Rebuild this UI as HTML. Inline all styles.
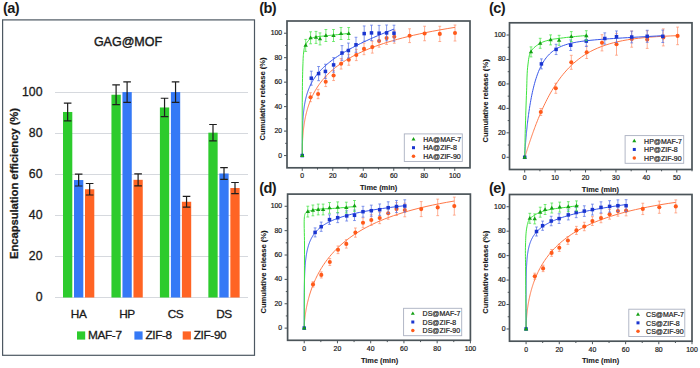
<!DOCTYPE html>
<html><head><meta charset="utf-8"><style>html,body{margin:0;padding:0;background:#fff;width:700px;height:368px;overflow:hidden}svg{display:block}</style></head><body>
<svg width="700" height="368" viewBox="0 0 700 368">
<style>text{font-family:"Liberation Sans", sans-serif;fill:#1a1a1a}.tk{font-size:6.9px;stroke:#1a1a1a;stroke-width:0.2px}.axl{font-size:7.6px;font-weight:bold;stroke:#1a1a1a;stroke-width:0.1px}.plab{font-size:14.6px;font-weight:bold;letter-spacing:-0.6px}.lg{font-size:7.0px;stroke:#1a1a1a;stroke-width:0.2px}.ta{font-size:11.8px;stroke:#1a1a1a;stroke-width:0.3px}</style>
<rect width="700" height="368" fill="#fff"/>
<text x="3" y="13" class="plab">(a)</text>
<rect x="2.6" y="19.9" width="251.9" height="335.4" fill="none" stroke="#4d5862" stroke-width="1.2"/>
<line x1="55" y1="297.50" x2="248" y2="297.50" stroke="#d6d9de" stroke-width="1"/>
<text x="42.5" y="300.60" text-anchor="end" class="ta" style="font-size:12.3px">0</text>
<line x1="55" y1="256.50" x2="248" y2="256.50" stroke="#d6d9de" stroke-width="1"/>
<text x="42.5" y="259.60" text-anchor="end" class="ta" style="font-size:12.3px">20</text>
<line x1="55" y1="215.50" x2="248" y2="215.50" stroke="#d6d9de" stroke-width="1"/>
<text x="42.5" y="218.60" text-anchor="end" class="ta" style="font-size:12.3px">40</text>
<line x1="55" y1="174.50" x2="248" y2="174.50" stroke="#d6d9de" stroke-width="1"/>
<text x="42.5" y="177.60" text-anchor="end" class="ta" style="font-size:12.3px">60</text>
<line x1="55" y1="133.50" x2="248" y2="133.50" stroke="#d6d9de" stroke-width="1"/>
<text x="42.5" y="136.60" text-anchor="end" class="ta" style="font-size:12.3px">80</text>
<line x1="55" y1="92.50" x2="248" y2="92.50" stroke="#d6d9de" stroke-width="1"/>
<text x="42.5" y="95.60" text-anchor="end" class="ta" style="font-size:12.3px">100</text>
<text x="128" y="46.4" text-anchor="middle" class="ta" style="font-size:12.5px;stroke-width:0.4px">GAG@MOF</text>
<text transform="translate(18.3,183.5) rotate(-90)" text-anchor="middle" style="font-size:11.3px;font-weight:bold;letter-spacing:-0.08px;stroke:#1a1a1a;stroke-width:0.25px">Encapsulation efficiency (%)</text>
<rect x="63.00" y="111.98" width="9.3" height="185.52" fill="#2dcb2d"/>
<rect x="74.00" y="180.04" width="9.3" height="117.46" fill="#3579f6"/>
<rect x="85.00" y="189.26" width="9.3" height="108.24" fill="#ff6424"/>
<path d="M67.65,103.16 V120.79 M63.85,103.16 H71.45 M63.85,120.79 H71.45" stroke="#1e1e1e" stroke-width="1.2" fill="none"/>
<path d="M78.65,174.09 V185.98 M74.85,174.09 H82.45 M74.85,185.98 H82.45" stroke="#1e1e1e" stroke-width="1.2" fill="none"/>
<path d="M89.65,183.52 V195.00 M85.85,183.52 H93.45 M85.85,195.00 H93.45" stroke="#1e1e1e" stroke-width="1.2" fill="none"/>
<text x="78.60" y="317.8" text-anchor="middle" class="ta" style="letter-spacing:-0.4px">HA</text>
<rect x="111.45" y="94.75" width="9.3" height="202.75" fill="#2dcb2d"/>
<rect x="122.45" y="92.09" width="9.3" height="205.41" fill="#3579f6"/>
<rect x="133.45" y="179.83" width="9.3" height="117.67" fill="#ff6424"/>
<path d="M116.10,84.91 V104.59 M112.30,84.91 H119.90 M112.30,104.59 H119.90" stroke="#1e1e1e" stroke-width="1.2" fill="none"/>
<path d="M127.10,81.84 V102.34 M123.30,81.84 H130.90 M123.30,102.34 H130.90" stroke="#1e1e1e" stroke-width="1.2" fill="none"/>
<path d="M138.10,173.89 V185.78 M134.30,173.89 H141.90 M134.30,185.78 H141.90" stroke="#1e1e1e" stroke-width="1.2" fill="none"/>
<text x="127.05" y="317.8" text-anchor="middle" class="ta" style="letter-spacing:-0.4px">HP</text>
<rect x="159.90" y="107.47" width="9.3" height="190.03" fill="#2dcb2d"/>
<rect x="170.90" y="92.09" width="9.3" height="205.41" fill="#3579f6"/>
<rect x="181.90" y="201.76" width="9.3" height="95.74" fill="#ff6424"/>
<path d="M164.55,98.24 V116.69 M160.75,98.24 H168.35 M160.75,116.69 H168.35" stroke="#1e1e1e" stroke-width="1.2" fill="none"/>
<path d="M175.55,81.84 V102.34 M171.75,81.84 H179.35 M171.75,102.34 H179.35" stroke="#1e1e1e" stroke-width="1.2" fill="none"/>
<path d="M186.55,196.43 V207.09 M182.75,196.43 H190.35 M182.75,207.09 H190.35" stroke="#1e1e1e" stroke-width="1.2" fill="none"/>
<text x="175.50" y="317.8" text-anchor="middle" class="ta" style="letter-spacing:-0.4px">CS</text>
<rect x="208.35" y="132.68" width="9.3" height="164.82" fill="#2dcb2d"/>
<rect x="219.35" y="173.48" width="9.3" height="124.02" fill="#3579f6"/>
<rect x="230.35" y="188.03" width="9.3" height="109.47" fill="#ff6424"/>
<path d="M213.00,124.48 V140.88 M209.20,124.48 H216.80 M209.20,140.88 H216.80" stroke="#1e1e1e" stroke-width="1.2" fill="none"/>
<path d="M224.00,167.53 V179.42 M220.20,167.53 H227.80 M220.20,179.42 H227.80" stroke="#1e1e1e" stroke-width="1.2" fill="none"/>
<path d="M235.00,182.50 V193.57 M231.20,182.50 H238.80 M231.20,193.57 H238.80" stroke="#1e1e1e" stroke-width="1.2" fill="none"/>
<text x="223.95" y="317.8" text-anchor="middle" class="ta" style="letter-spacing:-0.4px">DS</text>
<rect x="77.00" y="331.4" width="8.2" height="8.2" fill="#2dcb2d"/>
<text x="88.00" y="339" class="ta" style="letter-spacing:-0.35px">MAF-7</text>
<rect x="134.40" y="331.4" width="8.2" height="8.2" fill="#3579f6"/>
<text x="145.40" y="339" class="ta" style="letter-spacing:-0.35px">ZIF-8</text>
<rect x="182.70" y="331.4" width="8.2" height="8.2" fill="#ff6424"/>
<text x="193.70" y="339" class="ta" style="letter-spacing:-0.35px">ZIF-90</text>
<rect x="287.00" y="21.00" width="183.00" height="146.80" fill="none" stroke="#4b5459" stroke-width="1.7"/>
<line x1="302.25" y1="167.80" x2="302.25" y2="170.80" stroke="#4b5459" stroke-width="1"/>
<text x="302.25" y="178.20" text-anchor="middle" class="tk">0</text>
<line x1="332.75" y1="167.80" x2="332.75" y2="170.80" stroke="#4b5459" stroke-width="1"/>
<text x="332.75" y="178.20" text-anchor="middle" class="tk">20</text>
<line x1="363.25" y1="167.80" x2="363.25" y2="170.80" stroke="#4b5459" stroke-width="1"/>
<text x="363.25" y="178.20" text-anchor="middle" class="tk">40</text>
<line x1="393.75" y1="167.80" x2="393.75" y2="170.80" stroke="#4b5459" stroke-width="1"/>
<text x="393.75" y="178.20" text-anchor="middle" class="tk">60</text>
<line x1="424.25" y1="167.80" x2="424.25" y2="170.80" stroke="#4b5459" stroke-width="1"/>
<text x="424.25" y="178.20" text-anchor="middle" class="tk">80</text>
<line x1="454.75" y1="167.80" x2="454.75" y2="170.80" stroke="#4b5459" stroke-width="1"/>
<text x="454.75" y="178.20" text-anchor="middle" class="tk">100</text>
<line x1="317.50" y1="167.80" x2="317.50" y2="169.60" stroke="#4b5459" stroke-width="1"/>
<line x1="348.00" y1="167.80" x2="348.00" y2="169.60" stroke="#4b5459" stroke-width="1"/>
<line x1="378.50" y1="167.80" x2="378.50" y2="169.60" stroke="#4b5459" stroke-width="1"/>
<line x1="409.00" y1="167.80" x2="409.00" y2="169.60" stroke="#4b5459" stroke-width="1"/>
<line x1="439.50" y1="167.80" x2="439.50" y2="169.60" stroke="#4b5459" stroke-width="1"/>
<line x1="284.00" y1="155.57" x2="287.00" y2="155.57" stroke="#4b5459" stroke-width="1"/>
<text x="282.20" y="157.52" text-anchor="end" class="tk">0</text>
<line x1="284.00" y1="131.10" x2="287.00" y2="131.10" stroke="#4b5459" stroke-width="1"/>
<text x="282.20" y="133.05" text-anchor="end" class="tk">20</text>
<line x1="284.00" y1="106.63" x2="287.00" y2="106.63" stroke="#4b5459" stroke-width="1"/>
<text x="282.20" y="108.58" text-anchor="end" class="tk">40</text>
<line x1="284.00" y1="82.17" x2="287.00" y2="82.17" stroke="#4b5459" stroke-width="1"/>
<text x="282.20" y="84.12" text-anchor="end" class="tk">60</text>
<line x1="284.00" y1="57.70" x2="287.00" y2="57.70" stroke="#4b5459" stroke-width="1"/>
<text x="282.20" y="59.65" text-anchor="end" class="tk">80</text>
<line x1="284.00" y1="33.23" x2="287.00" y2="33.23" stroke="#4b5459" stroke-width="1"/>
<text x="282.20" y="35.18" text-anchor="end" class="tk">100</text>
<line x1="285.20" y1="143.33" x2="287.00" y2="143.33" stroke="#4b5459" stroke-width="1"/>
<line x1="285.20" y1="118.87" x2="287.00" y2="118.87" stroke="#4b5459" stroke-width="1"/>
<line x1="285.20" y1="94.40" x2="287.00" y2="94.40" stroke="#4b5459" stroke-width="1"/>
<line x1="285.20" y1="69.93" x2="287.00" y2="69.93" stroke="#4b5459" stroke-width="1"/>
<line x1="285.20" y1="45.47" x2="287.00" y2="45.47" stroke="#4b5459" stroke-width="1"/>
<text x="378.60" y="189.90" text-anchor="middle" class="axl" style="font-size:7.4px">Time (min)</text>
<text transform="translate(265.30,99.00) rotate(-90)" text-anchor="middle" class="axl">Cumulative release (%)</text>
<text x="259.20" y="13.00" class="plab">(b)</text>
<path d="M310.50,92.70 V101.70 M309.10,92.70 H311.90 M309.10,101.70 H311.90" stroke="#ff9470" stroke-width="0.75" fill="none"/>
<path d="M318.10,89.32 V98.68 M316.70,89.32 H319.50 M316.70,98.68 H319.50" stroke="#ff9470" stroke-width="0.75" fill="none"/>
<path d="M325.70,76.83 V86.57 M324.30,76.83 H327.10 M324.30,86.57 H327.10" stroke="#ff9470" stroke-width="0.75" fill="none"/>
<path d="M333.60,70.44 V80.56 M332.20,70.44 H335.00 M332.20,80.56 H335.00" stroke="#ff9470" stroke-width="0.75" fill="none"/>
<path d="M341.10,58.56 V69.04 M339.70,58.56 H342.50 M339.70,69.04 H342.50" stroke="#ff9470" stroke-width="0.75" fill="none"/>
<path d="M348.80,54.37 V65.23 M347.40,54.37 H350.20 M347.40,65.23 H350.20" stroke="#ff9470" stroke-width="0.75" fill="none"/>
<path d="M356.30,49.39 V60.61 M354.90,49.39 H357.70 M354.90,60.61 H357.70" stroke="#ff9470" stroke-width="0.75" fill="none"/>
<path d="M364.00,43.10 V54.70 M362.60,43.10 H365.40 M362.60,54.70 H365.40" stroke="#ff9470" stroke-width="0.75" fill="none"/>
<path d="M372.30,41.10 V53.10 M370.90,41.10 H373.70 M370.90,53.10 H373.70" stroke="#ff9470" stroke-width="0.75" fill="none"/>
<path d="M379.10,34.84 V47.16 M377.70,34.84 H380.50 M377.70,47.16 H380.50" stroke="#ff9470" stroke-width="0.75" fill="none"/>
<path d="M386.60,31.76 V44.44 M385.20,31.76 H388.00 M385.20,44.44 H388.00" stroke="#ff9470" stroke-width="0.75" fill="none"/>
<path d="M394.30,30.17 V43.23 M392.90,30.17 H395.70 M392.90,43.23 H395.70" stroke="#ff9470" stroke-width="0.75" fill="none"/>
<path d="M409.60,28.80 V42.60 M408.20,28.80 H411.00 M408.20,42.60 H411.00" stroke="#ff9470" stroke-width="0.75" fill="none"/>
<path d="M424.60,26.24 V40.76 M423.20,26.24 H426.00 M423.20,40.76 H426.00" stroke="#ff9470" stroke-width="0.75" fill="none"/>
<path d="M439.80,26.27 V41.53 M438.40,26.27 H441.20 M438.40,41.53 H441.20" stroke="#ff9470" stroke-width="0.75" fill="none"/>
<path d="M455.00,25.00 V41.00 M453.60,25.00 H456.40 M453.60,41.00 H456.40" stroke="#ff9470" stroke-width="0.75" fill="none"/>
<path d="M302.25,155.57 L302.25,154.18 L302.25,154.15 L302.25,154.12 L302.25,154.08 L302.25,154.05 L302.25,154.01 L302.25,153.97 L302.25,153.93 L302.25,153.89 L302.25,153.85 L302.25,153.81 L302.25,153.77 L302.25,153.73 L302.25,153.68 L302.25,153.64 L302.25,153.59 L302.25,153.55 L302.25,153.50 L302.25,153.45 L302.25,153.40 L302.25,153.35 L302.25,153.29 L302.25,153.24 L302.26,153.18 L302.26,153.13 L302.26,153.07 L302.26,153.01 L302.26,152.95 L302.26,152.89 L302.26,152.82 L302.26,152.76 L302.26,152.69 L302.26,152.62 L302.26,152.55 L302.26,152.48 L302.26,152.40 L302.26,152.33 L302.26,152.25 L302.26,152.17 L302.26,152.09 L302.26,152.01 L302.26,151.93 L302.26,151.84 L302.26,151.75 L302.27,151.66 L302.27,151.57 L302.27,151.47 L302.27,151.38 L302.27,151.28 L302.27,151.17 L302.27,151.07 L302.27,150.96 L302.27,150.85 L302.27,150.74 L302.28,150.63 L302.28,150.51 L302.28,150.39 L302.28,150.27 L302.28,150.14 L302.28,150.02 L302.29,149.89 L302.29,149.75 L302.29,149.61 L302.29,149.47 L302.29,149.33 L302.30,149.18 L302.30,149.03 L302.30,148.88 L302.30,148.72 L302.31,148.56 L302.31,148.40 L302.31,148.23 L302.32,148.05 L302.32,147.88 L302.32,147.70 L302.33,147.51 L302.33,147.32 L302.34,147.13 L302.34,146.93 L302.35,146.73 L302.35,146.53 L302.36,146.32 L302.36,146.10 L302.37,145.88 L302.38,145.65 L302.38,145.42 L302.39,145.19 L302.40,144.94 L302.41,144.70 L302.41,144.45 L302.42,144.19 L302.43,143.92 L302.44,143.66 L302.45,143.38 L302.46,143.10 L302.48,142.81 L302.49,142.52 L302.50,142.22 L302.51,141.91 L302.53,141.59 L302.54,141.27 L302.56,140.95 L302.58,140.61 L302.59,140.27 L302.61,139.92 L302.63,139.56 L302.65,139.20 L302.67,138.83 L302.70,138.45 L302.72,138.06 L302.75,137.66 L302.77,137.25 L302.80,136.84 L302.83,136.42 L302.86,135.99 L302.89,135.55 L302.93,135.10 L302.97,134.64 L303.00,134.17 L303.05,133.69 L303.09,133.20 L303.13,132.70 L303.18,132.20 L303.23,131.68 L303.28,131.15 L303.34,130.61 L303.40,130.06 L303.46,129.50 L303.53,128.92 L303.60,128.34 L303.67,127.75 L303.74,127.14 L303.83,126.52 L303.91,125.89 L304.00,125.25 L304.09,124.59 L304.19,123.93 L304.30,123.25 L304.41,122.55 L304.53,121.85 L304.65,121.13 L304.78,120.40 L304.92,119.65 L305.06,118.90 L305.21,118.13 L305.37,117.34 L305.54,116.54 L305.72,115.73 L305.90,114.90 L306.10,114.06 L306.31,113.21 L306.53,112.34 L306.76,111.45 L307.00,110.56 L307.26,109.64 L307.53,108.72 L307.81,107.77 L308.11,106.82 L308.43,105.85 L308.77,104.86 L309.12,103.86 L309.49,102.84 L309.88,101.81 L310.29,100.77 L310.72,99.71 L311.18,98.63 L311.66,97.54 L312.17,96.44 L312.71,95.32 L313.27,94.19 L313.87,93.04 L314.49,91.88 L315.16,90.71 L315.85,89.52 L316.59,88.32 L317.36,87.10 L318.18,85.87 L319.04,84.63 L319.94,83.38 L320.90,82.11 L321.90,80.83 L322.96,79.54 L324.08,78.24 L325.26,76.93 L326.50,75.60 L327.81,74.27 L329.19,72.93 L330.65,71.57 L332.18,70.21 L333.80,68.84 L335.50,67.46 L337.29,66.08 L339.19,64.69 L341.18,63.29 L343.28,61.89 L345.50,60.48 L347.83,59.07 L350.29,57.66 L352.89,56.24 L355.62,54.82 L358.50,53.40 L361.54,51.98 L364.74,50.56 L368.11,49.14 L371.67,47.73 L375.41,46.31 L379.36,44.90 L383.53,43.50 L387.92,42.10 L392.54,40.71 L397.41,39.32 L402.55,37.95 L407.97,36.58 L413.67,35.22 L419.69,33.88 L426.03,32.54 L432.71,31.22 L439.75,29.92 L447.18,28.63 L455.00,27.35" fill="none" stroke="#ff7848" stroke-width="1.0" stroke-linejoin="round"/>
<circle cx="310.50" cy="97.20" r="2.05" fill="#ff5a1a"/>
<circle cx="318.10" cy="94.00" r="2.05" fill="#ff5a1a"/>
<circle cx="325.70" cy="81.70" r="2.05" fill="#ff5a1a"/>
<circle cx="333.60" cy="75.50" r="2.05" fill="#ff5a1a"/>
<circle cx="341.10" cy="63.80" r="2.05" fill="#ff5a1a"/>
<circle cx="348.80" cy="59.80" r="2.05" fill="#ff5a1a"/>
<circle cx="356.30" cy="55.00" r="2.05" fill="#ff5a1a"/>
<circle cx="364.00" cy="48.90" r="2.05" fill="#ff5a1a"/>
<circle cx="372.30" cy="47.10" r="2.05" fill="#ff5a1a"/>
<circle cx="379.10" cy="41.00" r="2.05" fill="#ff5a1a"/>
<circle cx="386.60" cy="38.10" r="2.05" fill="#ff5a1a"/>
<circle cx="394.30" cy="36.70" r="2.05" fill="#ff5a1a"/>
<circle cx="409.60" cy="35.70" r="2.05" fill="#ff5a1a"/>
<circle cx="424.60" cy="33.50" r="2.05" fill="#ff5a1a"/>
<circle cx="439.80" cy="33.90" r="2.05" fill="#ff5a1a"/>
<circle cx="455.00" cy="33.00" r="2.05" fill="#ff5a1a"/>
<path d="M311.30,71.20 V85.20 M309.90,71.20 H312.70 M309.90,85.20 H312.70" stroke="#5a74e6" stroke-width="0.75" fill="none"/>
<path d="M318.60,66.51 V80.69 M317.20,66.51 H320.00 M317.20,80.69 H320.00" stroke="#5a74e6" stroke-width="0.75" fill="none"/>
<path d="M325.40,64.23 V78.57 M324.00,64.23 H326.80 M324.00,78.57 H326.80" stroke="#5a74e6" stroke-width="0.75" fill="none"/>
<path d="M333.60,57.63 V72.17 M332.20,57.63 H335.00 M332.20,72.17 H335.00" stroke="#5a74e6" stroke-width="0.75" fill="none"/>
<path d="M342.00,45.63 V60.37 M340.60,45.63 H343.40 M340.60,60.37 H343.40" stroke="#5a74e6" stroke-width="0.75" fill="none"/>
<path d="M348.40,43.05 V57.95 M347.00,43.05 H349.80 M347.00,57.95 H349.80" stroke="#5a74e6" stroke-width="0.75" fill="none"/>
<path d="M356.00,37.26 V52.34 M354.60,37.26 H357.40 M354.60,52.34 H357.40" stroke="#5a74e6" stroke-width="0.75" fill="none"/>
<path d="M364.20,25.96 V41.24 M362.80,25.96 H365.60 M362.80,41.24 H365.60" stroke="#5a74e6" stroke-width="0.75" fill="none"/>
<path d="M371.50,25.17 V40.63 M370.10,25.17 H372.90 M370.10,40.63 H372.90" stroke="#5a74e6" stroke-width="0.75" fill="none"/>
<path d="M379.10,25.38 V41.02 M377.70,25.38 H380.50 M377.70,41.02 H380.50" stroke="#5a74e6" stroke-width="0.75" fill="none"/>
<path d="M386.60,24.99 V40.81 M385.20,24.99 H388.00 M385.20,40.81 H388.00" stroke="#5a74e6" stroke-width="0.75" fill="none"/>
<path d="M394.00,25.20 V41.20 M392.60,25.20 H395.40 M392.60,41.20 H395.40" stroke="#5a74e6" stroke-width="0.75" fill="none"/>
<path d="M302.25,155.57 L302.25,151.57 L302.25,151.49 L302.25,151.41 L302.25,151.33 L302.25,151.25 L302.25,151.16 L302.25,151.08 L302.25,150.99 L302.25,150.90 L302.25,150.81 L302.25,150.72 L302.25,150.62 L302.25,150.53 L302.25,150.43 L302.25,150.33 L302.25,150.23 L302.25,150.12 L302.25,150.02 L302.25,149.91 L302.25,149.80 L302.25,149.69 L302.25,149.58 L302.25,149.46 L302.25,149.34 L302.26,149.22 L302.26,149.10 L302.26,148.97 L302.26,148.85 L302.26,148.72 L302.26,148.59 L302.26,148.45 L302.26,148.32 L302.26,148.18 L302.26,148.04 L302.26,147.89 L302.26,147.74 L302.26,147.60 L302.26,147.44 L302.26,147.29 L302.26,147.13 L302.26,146.97 L302.26,146.81 L302.26,146.64 L302.26,146.47 L302.26,146.30 L302.26,146.12 L302.27,145.95 L302.27,145.76 L302.27,145.58 L302.27,145.39 L302.27,145.20 L302.27,145.01 L302.27,144.81 L302.27,144.61 L302.27,144.40 L302.27,144.19 L302.28,143.98 L302.28,143.77 L302.28,143.55 L302.28,143.33 L302.28,143.10 L302.28,142.87 L302.28,142.63 L302.29,142.40 L302.29,142.15 L302.29,141.91 L302.29,141.66 L302.29,141.40 L302.30,141.14 L302.30,140.88 L302.30,140.61 L302.30,140.34 L302.31,140.07 L302.31,139.79 L302.31,139.50 L302.32,139.21 L302.32,138.92 L302.32,138.62 L302.33,138.32 L302.33,138.01 L302.33,137.69 L302.34,137.38 L302.34,137.05 L302.35,136.73 L302.35,136.39 L302.36,136.06 L302.36,135.71 L302.37,135.36 L302.38,135.01 L302.38,134.65 L302.39,134.29 L302.40,133.92 L302.41,133.55 L302.41,133.17 L302.42,132.78 L302.43,132.39 L302.44,131.99 L302.45,131.59 L302.46,131.18 L302.47,130.77 L302.48,130.35 L302.49,129.93 L302.51,129.49 L302.52,129.06 L302.53,128.62 L302.55,128.17 L302.56,127.71 L302.58,127.25 L302.60,126.79 L302.61,126.31 L302.63,125.84 L302.65,125.35 L302.67,124.86 L302.70,124.37 L302.72,123.86 L302.74,123.35 L302.77,122.84 L302.80,122.32 L302.82,121.79 L302.85,121.26 L302.88,120.72 L302.92,120.17 L302.95,119.62 L302.99,119.06 L303.03,118.50 L303.07,117.93 L303.11,117.35 L303.15,116.77 L303.20,116.18 L303.25,115.58 L303.30,114.98 L303.35,114.37 L303.41,113.76 L303.47,113.13 L303.53,112.51 L303.60,111.87 L303.67,111.23 L303.74,110.59 L303.82,109.94 L303.90,109.28 L303.98,108.61 L304.07,107.94 L304.17,107.27 L304.26,106.59 L304.37,105.90 L304.48,105.20 L304.59,104.50 L304.71,103.79 L304.84,103.08 L304.97,102.36 L305.11,101.64 L305.26,100.91 L305.42,100.17 L305.58,99.43 L305.75,98.68 L305.93,97.92 L306.12,97.16 L306.32,96.40 L306.53,95.62 L306.75,94.85 L306.98,94.06 L307.23,93.27 L307.48,92.47 L307.75,91.67 L308.04,90.86 L308.33,90.05 L308.65,89.22 L308.98,88.40 L309.32,87.56 L309.69,86.72 L310.07,85.88 L310.47,85.02 L310.90,84.16 L311.34,83.29 L311.81,82.42 L312.30,81.54 L312.82,80.65 L313.37,79.76 L313.94,78.85 L314.54,77.94 L315.18,77.02 L315.84,76.09 L316.54,75.16 L317.28,74.21 L318.05,73.26 L318.87,72.29 L319.73,71.32 L320.63,70.34 L321.57,69.34 L322.57,68.34 L323.62,67.32 L324.72,66.29 L325.88,65.25 L327.09,64.19 L328.37,63.13 L329.72,62.04 L331.13,60.95 L332.62,59.83 L334.19,58.70 L335.83,57.55 L337.57,56.39 L339.39,55.20 L341.30,54.00 L343.31,52.77 L345.43,51.52 L347.65,50.24 L349.99,48.95 L352.45,47.62 L355.04,46.27 L357.76,44.89 L360.62,43.47 L363.63,42.03 L366.79,40.55 L370.12,39.03 L373.62,37.48 L377.29,35.89 L381.16,34.25 L385.23,32.57 L389.50,30.84 L394.00,29.07" fill="none" stroke="#3655ea" stroke-width="1.0" stroke-linejoin="round"/>
<rect x="309.55" y="76.45" width="3.50" height="3.50" fill="#1a35d0"/>
<rect x="316.85" y="71.85" width="3.50" height="3.50" fill="#1a35d0"/>
<rect x="323.65" y="69.65" width="3.50" height="3.50" fill="#1a35d0"/>
<rect x="331.85" y="63.15" width="3.50" height="3.50" fill="#1a35d0"/>
<rect x="340.25" y="51.25" width="3.50" height="3.50" fill="#1a35d0"/>
<rect x="346.65" y="48.75" width="3.50" height="3.50" fill="#1a35d0"/>
<rect x="354.25" y="43.05" width="3.50" height="3.50" fill="#1a35d0"/>
<rect x="362.45" y="31.85" width="3.50" height="3.50" fill="#1a35d0"/>
<rect x="369.75" y="31.15" width="3.50" height="3.50" fill="#1a35d0"/>
<rect x="377.35" y="31.45" width="3.50" height="3.50" fill="#1a35d0"/>
<rect x="384.85" y="31.15" width="3.50" height="3.50" fill="#1a35d0"/>
<rect x="392.25" y="31.45" width="3.50" height="3.50" fill="#1a35d0"/>
<path d="M305.70,39.40 V51.40 M304.30,39.40 H307.10 M304.30,51.40 H307.10" stroke="#48e448" stroke-width="0.75" fill="none"/>
<path d="M310.60,31.80 V43.80 M309.20,31.80 H312.00 M309.20,43.80 H312.00" stroke="#48e448" stroke-width="0.75" fill="none"/>
<path d="M316.00,31.40 V43.40 M314.60,31.40 H317.40 M314.60,43.40 H317.40" stroke="#48e448" stroke-width="0.75" fill="none"/>
<path d="M320.00,32.90 V44.90 M318.60,32.90 H321.40 M318.60,44.90 H321.40" stroke="#48e448" stroke-width="0.75" fill="none"/>
<path d="M325.90,29.50 V41.50 M324.50,29.50 H327.30 M324.50,41.50 H327.30" stroke="#48e448" stroke-width="0.75" fill="none"/>
<path d="M333.50,29.50 V41.50 M332.10,29.50 H334.90 M332.10,41.50 H334.90" stroke="#48e448" stroke-width="0.75" fill="none"/>
<path d="M341.00,27.50 V39.50 M339.60,27.50 H342.40 M339.60,39.50 H342.40" stroke="#48e448" stroke-width="0.75" fill="none"/>
<path d="M348.70,27.50 V39.50 M347.30,27.50 H350.10 M347.30,39.50 H350.10" stroke="#48e448" stroke-width="0.75" fill="none"/>
<path d="M302.25,155.57 L302.25,152.59 L302.23,146.90 L302.22,139.19 L302.21,130.16 L302.21,120.53 L302.22,110.98 L302.25,102.24 L302.30,95.00 L302.35,90.66 L302.40,86.45 L302.46,82.39 L302.53,78.50 L302.61,74.80 L302.70,71.30 L302.79,68.03 L302.90,65.00 L302.97,63.22 L303.03,61.55 L303.09,59.97 L303.15,58.47 L303.23,57.04 L303.32,55.66 L303.45,54.32 L303.60,53.00 L303.73,51.99 L303.84,51.02 L303.97,50.08 L304.10,49.17 L304.27,48.28 L304.49,47.41 L304.76,46.55 L305.10,45.70 L305.54,44.79 L306.05,43.87 L306.61,42.95 L307.23,42.05 L307.89,41.20 L308.58,40.41 L309.28,39.70 L310.00,39.10 L310.61,38.68 L311.22,38.33 L311.86,38.03 L312.51,37.79 L313.19,37.57 L313.89,37.37 L314.63,37.19 L315.40,37.00 L316.48,36.77 L317.64,36.59 L318.87,36.44 L320.14,36.32 L321.43,36.22 L322.72,36.12 L323.98,36.02 L325.20,35.90 L326.30,35.78 L327.36,35.67 L328.41,35.56 L329.45,35.46 L330.51,35.35 L331.59,35.24 L332.72,35.12 L333.90,35.00 L335.66,34.81 L337.73,34.60 L339.95,34.36 L342.18,34.12 L344.25,33.90 L346.02,33.71 L347.32,33.57 L348.00,33.50" fill="none" stroke="#3ee43e" stroke-width="1.0" stroke-linejoin="round"/>
<path d="M305.70,43.04 L307.90,46.84 L303.50,46.84 Z" fill="#14a014"/>
<path d="M310.60,35.44 L312.80,39.24 L308.40,39.24 Z" fill="#14a014"/>
<path d="M316.00,35.04 L318.20,38.84 L313.80,38.84 Z" fill="#14a014"/>
<path d="M320.00,36.54 L322.20,40.34 L317.80,40.34 Z" fill="#14a014"/>
<path d="M325.90,33.14 L328.10,36.94 L323.70,36.94 Z" fill="#14a014"/>
<path d="M333.50,33.14 L335.70,36.94 L331.30,36.94 Z" fill="#14a014"/>
<path d="M341.00,31.14 L343.20,34.94 L338.80,34.94 Z" fill="#14a014"/>
<path d="M348.70,31.14 L350.90,34.94 L346.50,34.94 Z" fill="#14a014"/>
<rect x="300.50" y="153.82" width="3.50" height="3.50" fill="#1a35d0"/>
<path d="M302.25,153.21 L304.45,157.01 L300.05,157.01 Z" fill="#14a014"/>
<rect x="404.30" y="133.90" width="58.00" height="27.60" fill="#fff" stroke="#aab0c0" stroke-width="0.9"/>
<path d="M413.50,137.04 L415.50,140.44 L411.50,140.44 Z" fill="#14a014"/>
<text x="423.30" y="141.84" class="lg">HA@MAF-7</text>
<rect x="412.00" y="146.20" width="3.00" height="3.00" fill="#1a35d0"/>
<text x="423.30" y="150.40" class="lg">HA@ZIF-8</text>
<circle cx="413.50" cy="156.26" r="1.75" fill="#ff5a1a"/>
<text x="423.30" y="158.96" class="lg">HA@ZIF-90</text>
<rect x="509.50" y="22.80" width="182.50" height="146.70" fill="none" stroke="#4b5459" stroke-width="1.7"/>
<line x1="524.71" y1="169.50" x2="524.71" y2="172.50" stroke="#4b5459" stroke-width="1"/>
<text x="524.71" y="179.90" text-anchor="middle" class="tk">0</text>
<line x1="555.12" y1="169.50" x2="555.12" y2="172.50" stroke="#4b5459" stroke-width="1"/>
<text x="555.12" y="179.90" text-anchor="middle" class="tk">10</text>
<line x1="585.54" y1="169.50" x2="585.54" y2="172.50" stroke="#4b5459" stroke-width="1"/>
<text x="585.54" y="179.90" text-anchor="middle" class="tk">20</text>
<line x1="615.96" y1="169.50" x2="615.96" y2="172.50" stroke="#4b5459" stroke-width="1"/>
<text x="615.96" y="179.90" text-anchor="middle" class="tk">30</text>
<line x1="646.38" y1="169.50" x2="646.38" y2="172.50" stroke="#4b5459" stroke-width="1"/>
<text x="646.38" y="179.90" text-anchor="middle" class="tk">40</text>
<line x1="676.79" y1="169.50" x2="676.79" y2="172.50" stroke="#4b5459" stroke-width="1"/>
<text x="676.79" y="179.90" text-anchor="middle" class="tk">50</text>
<line x1="539.92" y1="169.50" x2="539.92" y2="171.30" stroke="#4b5459" stroke-width="1"/>
<line x1="570.33" y1="169.50" x2="570.33" y2="171.30" stroke="#4b5459" stroke-width="1"/>
<line x1="600.75" y1="169.50" x2="600.75" y2="171.30" stroke="#4b5459" stroke-width="1"/>
<line x1="631.17" y1="169.50" x2="631.17" y2="171.30" stroke="#4b5459" stroke-width="1"/>
<line x1="661.58" y1="169.50" x2="661.58" y2="171.30" stroke="#4b5459" stroke-width="1"/>
<line x1="692.00" y1="169.50" x2="692.00" y2="171.30" stroke="#4b5459" stroke-width="1"/>
<line x1="506.50" y1="157.28" x2="509.50" y2="157.28" stroke="#4b5459" stroke-width="1"/>
<text x="505.70" y="159.22" text-anchor="end" class="tk">0</text>
<line x1="506.50" y1="132.82" x2="509.50" y2="132.82" stroke="#4b5459" stroke-width="1"/>
<text x="505.70" y="134.77" text-anchor="end" class="tk">20</text>
<line x1="506.50" y1="108.38" x2="509.50" y2="108.38" stroke="#4b5459" stroke-width="1"/>
<text x="505.70" y="110.33" text-anchor="end" class="tk">40</text>
<line x1="506.50" y1="83.93" x2="509.50" y2="83.93" stroke="#4b5459" stroke-width="1"/>
<text x="505.70" y="85.88" text-anchor="end" class="tk">60</text>
<line x1="506.50" y1="59.48" x2="509.50" y2="59.48" stroke="#4b5459" stroke-width="1"/>
<text x="505.70" y="61.43" text-anchor="end" class="tk">80</text>
<line x1="506.50" y1="35.03" x2="509.50" y2="35.03" stroke="#4b5459" stroke-width="1"/>
<text x="505.70" y="36.98" text-anchor="end" class="tk">100</text>
<line x1="507.70" y1="145.05" x2="509.50" y2="145.05" stroke="#4b5459" stroke-width="1"/>
<line x1="507.70" y1="120.60" x2="509.50" y2="120.60" stroke="#4b5459" stroke-width="1"/>
<line x1="507.70" y1="96.15" x2="509.50" y2="96.15" stroke="#4b5459" stroke-width="1"/>
<line x1="507.70" y1="71.70" x2="509.50" y2="71.70" stroke="#4b5459" stroke-width="1"/>
<line x1="507.70" y1="47.25" x2="509.50" y2="47.25" stroke="#4b5459" stroke-width="1"/>
<text x="600.40" y="191.80" text-anchor="middle" class="axl" style="font-size:7.4px">Time (min)</text>
<text transform="translate(487.70,100.90) rotate(-90)" text-anchor="middle" class="axl">Cumulative release (%)</text>
<text x="489.00" y="13.00" class="plab">(c)</text>
<path d="M540.80,108.50 V115.50 M539.40,108.50 H542.20 M539.40,115.50 H542.20" stroke="#ff9470" stroke-width="0.75" fill="none"/>
<path d="M555.80,83.30 V93.30 M554.40,83.30 H557.20 M554.40,93.30 H557.20" stroke="#ff9470" stroke-width="0.75" fill="none"/>
<path d="M571.30,55.30 V69.30 M569.90,55.30 H572.70 M569.90,69.30 H572.70" stroke="#ff9470" stroke-width="0.75" fill="none"/>
<path d="M586.70,45.90 V58.50 M585.30,45.90 H588.10 M585.30,58.50 H588.10" stroke="#ff9470" stroke-width="0.75" fill="none"/>
<path d="M602.00,34.70 V50.90 M600.60,34.70 H603.40 M600.60,50.90 H603.40" stroke="#ff9470" stroke-width="0.75" fill="none"/>
<path d="M616.50,33.40 V55.20 M615.10,33.40 H617.90 M615.10,55.20 H617.90" stroke="#ff9470" stroke-width="0.75" fill="none"/>
<path d="M631.70,31.00 V47.20 M630.30,31.00 H633.10 M630.30,47.20 H633.10" stroke="#ff9470" stroke-width="0.75" fill="none"/>
<path d="M647.20,30.80 V48.40 M645.80,30.80 H648.60 M645.80,48.40 H648.60" stroke="#ff9470" stroke-width="0.75" fill="none"/>
<path d="M663.30,28.90 V45.90 M661.90,28.90 H664.70 M661.90,45.90 H664.70" stroke="#ff9470" stroke-width="0.75" fill="none"/>
<path d="M677.60,27.10 V44.70 M676.20,27.10 H679.00 M676.20,44.70 H679.00" stroke="#ff9470" stroke-width="0.75" fill="none"/>
<path d="M524.71,157.28 L524.71,157.27 L524.71,157.27 L524.71,157.27 L524.71,157.27 L524.71,157.27 L524.71,157.27 L524.71,157.27 L524.71,157.27 L524.71,157.26 L524.71,157.26 L524.71,157.26 L524.71,157.26 L524.71,157.26 L524.71,157.26 L524.71,157.26 L524.71,157.26 L524.72,157.26 L524.72,157.26 L524.72,157.26 L524.72,157.26 L524.72,157.26 L524.72,157.25 L524.72,157.25 L524.72,157.25 L524.72,157.25 L524.72,157.25 L524.72,157.25 L524.72,157.25 L524.72,157.25 L524.72,157.24 L524.72,157.24 L524.72,157.24 L524.72,157.24 L524.72,157.24 L524.72,157.24 L524.73,157.23 L524.73,157.23 L524.73,157.23 L524.73,157.23 L524.73,157.22 L524.73,157.22 L524.73,157.22 L524.73,157.21 L524.73,157.21 L524.74,157.21 L524.74,157.20 L524.74,157.20 L524.74,157.20 L524.74,157.19 L524.74,157.19 L524.74,157.18 L524.75,157.18 L524.75,157.17 L524.75,157.17 L524.75,157.16 L524.75,157.16 L524.76,157.15 L524.76,157.14 L524.76,157.14 L524.76,157.13 L524.77,157.12 L524.77,157.11 L524.77,157.10 L524.78,157.10 L524.78,157.09 L524.78,157.08 L524.79,157.07 L524.79,157.05 L524.80,157.04 L524.80,157.03 L524.81,157.02 L524.81,157.00 L524.82,156.99 L524.82,156.97 L524.83,156.96 L524.83,156.94 L524.84,156.92 L524.85,156.90 L524.85,156.88 L524.86,156.86 L524.87,156.84 L524.88,156.82 L524.88,156.79 L524.89,156.77 L524.90,156.74 L524.91,156.71 L524.92,156.68 L524.93,156.65 L524.94,156.62 L524.96,156.58 L524.97,156.55 L524.98,156.51 L525.00,156.47 L525.01,156.43 L525.03,156.38 L525.04,156.33 L525.06,156.28 L525.08,156.23 L525.09,156.17 L525.11,156.12 L525.13,156.05 L525.16,155.99 L525.18,155.92 L525.20,155.85 L525.23,155.77 L525.25,155.70 L525.28,155.61 L525.31,155.52 L525.34,155.43 L525.37,155.33 L525.41,155.23 L525.44,155.12 L525.48,155.01 L525.52,154.89 L525.56,154.76 L525.60,154.63 L525.65,154.49 L525.70,154.35 L525.75,154.19 L525.80,154.03 L525.85,153.86 L525.91,153.68 L525.97,153.49 L526.04,153.29 L526.10,153.09 L526.18,152.87 L526.25,152.64 L526.33,152.39 L526.41,152.14 L526.50,151.87 L526.59,151.59 L526.68,151.30 L526.78,150.99 L526.89,150.66 L527.00,150.32 L527.11,149.96 L527.24,149.58 L527.36,149.18 L527.50,148.77 L527.64,148.33 L527.79,147.87 L527.94,147.39 L528.11,146.89 L528.28,146.36 L528.46,145.81 L528.65,145.23 L528.85,144.62 L529.06,143.99 L529.28,143.32 L529.51,142.62 L529.76,141.89 L530.01,141.13 L530.28,140.33 L530.56,139.50 L530.86,138.63 L531.17,137.72 L531.50,136.77 L531.84,135.78 L532.21,134.74 L532.59,133.67 L532.98,132.55 L533.40,131.38 L533.84,130.16 L534.31,128.90 L534.79,127.59 L535.30,126.22 L535.84,124.81 L536.41,123.35 L537.00,121.83 L537.62,120.26 L538.28,118.63 L538.96,116.96 L539.69,115.23 L540.44,113.45 L541.24,111.61 L542.08,109.72 L542.96,107.79 L543.88,105.80 L544.86,103.77 L545.88,101.69 L546.95,99.57 L548.08,97.40 L549.26,95.20 L550.51,92.97 L551.81,90.71 L553.19,88.42 L554.63,86.11 L556.15,83.78 L557.74,81.44 L559.41,79.10 L561.17,76.76 L563.02,74.43 L564.96,72.12 L567.00,69.83 L569.14,67.56 L571.39,65.34 L573.76,63.15 L576.24,61.02 L578.86,58.95 L581.60,56.95 L584.48,55.01 L587.51,53.16 L590.69,51.38 L594.04,49.70 L597.55,48.11 L601.24,46.62 L605.12,45.23 L609.19,43.93 L613.47,42.74 L617.97,41.66 L622.70,40.67 L627.66,39.78 L632.88,38.98 L638.36,38.28 L644.12,37.66 L650.17,37.13 L656.53,36.67 L663.21,36.28 L670.23,35.95 L677.60,35.67" fill="none" stroke="#ff7848" stroke-width="1.0" stroke-linejoin="round"/>
<circle cx="540.80" cy="112.00" r="2.05" fill="#ff5a1a"/>
<circle cx="555.80" cy="88.30" r="2.05" fill="#ff5a1a"/>
<circle cx="571.30" cy="62.30" r="2.05" fill="#ff5a1a"/>
<circle cx="586.70" cy="52.20" r="2.05" fill="#ff5a1a"/>
<circle cx="602.00" cy="42.80" r="2.05" fill="#ff5a1a"/>
<circle cx="616.50" cy="44.30" r="2.05" fill="#ff5a1a"/>
<circle cx="631.70" cy="39.10" r="2.05" fill="#ff5a1a"/>
<circle cx="647.20" cy="39.60" r="2.05" fill="#ff5a1a"/>
<circle cx="663.30" cy="37.40" r="2.05" fill="#ff5a1a"/>
<circle cx="677.60" cy="35.90" r="2.05" fill="#ff5a1a"/>
<path d="M541.40,58.90 V68.90 M540.00,58.90 H542.80 M540.00,68.90 H542.80" stroke="#5a74e6" stroke-width="0.75" fill="none"/>
<path d="M556.10,44.25 V54.55 M554.70,44.25 H557.50 M554.70,54.55 H557.50" stroke="#5a74e6" stroke-width="0.75" fill="none"/>
<path d="M570.70,39.91 V50.49 M569.30,39.91 H572.10 M569.30,50.49 H572.10" stroke="#5a74e6" stroke-width="0.75" fill="none"/>
<path d="M586.30,35.66 V46.54 M584.90,35.66 H587.70 M584.90,46.54 H587.70" stroke="#5a74e6" stroke-width="0.75" fill="none"/>
<path d="M604.80,32.87 V44.13 M603.40,32.87 H606.20 M603.40,44.13 H606.20" stroke="#5a74e6" stroke-width="0.75" fill="none"/>
<path d="M616.50,30.96 V42.44 M615.10,30.96 H617.90 M615.10,42.44 H617.90" stroke="#5a74e6" stroke-width="0.75" fill="none"/>
<path d="M631.70,31.11 V42.89 M630.30,31.11 H633.10 M630.30,42.89 H633.10" stroke="#5a74e6" stroke-width="0.75" fill="none"/>
<path d="M647.20,30.25 V42.35 M645.80,30.25 H648.60 M645.80,42.35 H648.60" stroke="#5a74e6" stroke-width="0.75" fill="none"/>
<path d="M662.80,30.10 V42.50 M661.40,30.10 H664.20 M661.40,42.50 H664.20" stroke="#5a74e6" stroke-width="0.75" fill="none"/>
<path d="M524.71,157.28 L524.71,157.14 L524.71,157.14 L524.71,157.13 L524.71,157.13 L524.71,157.12 L524.71,157.11 L524.71,157.11 L524.71,157.10 L524.71,157.09 L524.71,157.08 L524.71,157.08 L524.71,157.07 L524.71,157.06 L524.71,157.05 L524.71,157.04 L524.71,157.03 L524.71,157.02 L524.72,157.01 L524.72,157.00 L524.72,156.99 L524.72,156.97 L524.72,156.96 L524.72,156.95 L524.72,156.94 L524.72,156.92 L524.72,156.91 L524.72,156.89 L524.72,156.87 L524.72,156.86 L524.72,156.84 L524.72,156.82 L524.72,156.80 L524.72,156.78 L524.72,156.76 L524.72,156.74 L524.73,156.72 L524.73,156.70 L524.73,156.67 L524.73,156.65 L524.73,156.62 L524.73,156.59 L524.73,156.56 L524.73,156.53 L524.73,156.50 L524.73,156.47 L524.74,156.44 L524.74,156.40 L524.74,156.37 L524.74,156.33 L524.74,156.29 L524.74,156.25 L524.75,156.20 L524.75,156.16 L524.75,156.11 L524.75,156.06 L524.75,156.01 L524.76,155.96 L524.76,155.91 L524.76,155.85 L524.76,155.79 L524.77,155.73 L524.77,155.66 L524.77,155.59 L524.77,155.52 L524.78,155.45 L524.78,155.38 L524.79,155.30 L524.79,155.21 L524.79,155.13 L524.80,155.04 L524.80,154.95 L524.81,154.85 L524.81,154.75 L524.82,154.64 L524.82,154.53 L524.83,154.42 L524.83,154.30 L524.84,154.18 L524.85,154.05 L524.85,153.92 L524.86,153.78 L524.87,153.63 L524.88,153.48 L524.89,153.33 L524.89,153.17 L524.90,153.00 L524.91,152.82 L524.92,152.64 L524.93,152.45 L524.95,152.25 L524.96,152.04 L524.97,151.83 L524.98,151.60 L525.00,151.37 L525.01,151.13 L525.03,150.88 L525.04,150.62 L525.06,150.35 L525.08,150.07 L525.10,149.77 L525.12,149.47 L525.14,149.15 L525.16,148.82 L525.18,148.48 L525.20,148.13 L525.23,147.76 L525.25,147.38 L525.28,146.98 L525.31,146.57 L525.34,146.14 L525.37,145.70 L525.41,145.24 L525.44,144.76 L525.48,144.27 L525.52,143.75 L525.56,143.22 L525.60,142.67 L525.64,142.10 L525.69,141.51 L525.74,140.90 L525.79,140.26 L525.85,139.60 L525.90,138.92 L525.96,138.22 L526.03,137.49 L526.09,136.74 L526.16,135.96 L526.24,135.16 L526.31,134.33 L526.39,133.47 L526.48,132.59 L526.57,131.68 L526.66,130.74 L526.76,129.77 L526.86,128.77 L526.97,127.74 L527.08,126.68 L527.20,125.59 L527.32,124.47 L527.46,123.31 L527.59,122.13 L527.74,120.91 L527.89,119.67 L528.05,118.39 L528.22,117.08 L528.39,115.74 L528.58,114.37 L528.77,112.97 L528.98,111.53 L529.19,110.07 L529.42,108.58 L529.65,107.06 L529.90,105.52 L530.16,103.94 L530.44,102.35 L530.72,100.73 L531.02,99.08 L531.34,97.42 L531.67,95.74 L532.02,94.04 L532.39,92.32 L532.78,90.60 L533.18,88.86 L533.61,87.12 L534.05,85.37 L534.52,83.62 L535.01,81.86 L535.53,80.11 L536.08,78.37 L536.65,76.64 L537.24,74.92 L537.87,73.22 L538.53,71.53 L539.23,69.87 L539.96,68.24 L540.72,66.63 L541.53,65.06 L542.37,63.52 L543.26,62.02 L544.19,60.57 L545.16,59.15 L546.19,57.79 L547.27,56.47 L548.40,55.20 L549.59,53.99 L550.84,52.83 L552.15,51.72 L553.53,50.67 L554.97,49.68 L556.49,48.74 L558.09,47.85 L559.76,47.03 L561.52,46.25 L563.37,45.53 L565.31,44.85 L567.35,44.23 L569.49,43.64 L571.73,43.11 L574.09,42.61 L576.57,42.14 L579.17,41.71 L581.91,41.31 L584.78,40.94 L587.79,40.59 L590.96,40.26 L594.28,39.94 L597.78,39.64 L601.44,39.35 L605.29,39.06 L609.34,38.78 L613.58,38.50 L618.04,38.22 L622.73,37.94 L627.65,37.65 L632.81,37.35 L638.24,37.04 L643.93,36.72 L649.92,36.39 L656.20,36.05 L662.80,35.68" fill="none" stroke="#3655ea" stroke-width="1.0" stroke-linejoin="round"/>
<rect x="539.65" y="62.15" width="3.50" height="3.50" fill="#1a35d0"/>
<rect x="554.35" y="47.65" width="3.50" height="3.50" fill="#1a35d0"/>
<rect x="568.95" y="43.45" width="3.50" height="3.50" fill="#1a35d0"/>
<rect x="584.55" y="39.35" width="3.50" height="3.50" fill="#1a35d0"/>
<rect x="603.05" y="36.75" width="3.50" height="3.50" fill="#1a35d0"/>
<rect x="614.75" y="34.95" width="3.50" height="3.50" fill="#1a35d0"/>
<rect x="629.95" y="35.25" width="3.50" height="3.50" fill="#1a35d0"/>
<rect x="645.45" y="34.55" width="3.50" height="3.50" fill="#1a35d0"/>
<rect x="661.05" y="34.55" width="3.50" height="3.50" fill="#1a35d0"/>
<path d="M531.00,46.90 V56.90 M529.60,46.90 H532.40 M529.60,56.90 H532.40" stroke="#48e448" stroke-width="0.75" fill="none"/>
<path d="M540.20,38.30 V48.30 M538.80,38.30 H541.60 M538.80,48.30 H541.60" stroke="#48e448" stroke-width="0.75" fill="none"/>
<path d="M550.60,34.90 V44.90 M549.20,34.90 H552.00 M549.20,44.90 H552.00" stroke="#48e448" stroke-width="0.75" fill="none"/>
<path d="M559.10,35.30 V45.30 M557.70,35.30 H560.50 M557.70,45.30 H560.50" stroke="#48e448" stroke-width="0.75" fill="none"/>
<path d="M571.30,31.60 V41.60 M569.90,31.60 H572.70 M569.90,41.60 H572.70" stroke="#48e448" stroke-width="0.75" fill="none"/>
<path d="M586.30,30.70 V40.70 M584.90,30.70 H587.70 M584.90,40.70 H587.70" stroke="#48e448" stroke-width="0.75" fill="none"/>
<path d="M524.71,157.28 L524.73,156.01 L524.78,153.65 L524.84,150.42 L524.91,146.56 L525.00,142.31 L525.10,137.91 L525.20,133.59 L525.30,129.60 L525.43,125.01 L525.57,120.17 L525.73,115.18 L525.89,110.11 L526.06,105.06 L526.24,100.10 L526.42,95.32 L526.60,90.80 L526.73,87.27 L526.83,83.79 L526.92,80.37 L527.03,77.05 L527.16,73.84 L527.33,70.74 L527.58,67.79 L527.90,65.00 L528.15,63.04 L528.38,61.13 L528.62,59.30 L528.90,57.54 L529.24,55.85 L529.69,54.25 L530.26,52.73 L531.00,51.30 L531.85,50.05 L532.83,48.88 L533.93,47.77 L535.11,46.74 L536.35,45.78 L537.63,44.89 L538.92,44.06 L540.20,43.30 L541.43,42.65 L542.71,42.07 L544.02,41.57 L545.35,41.12 L546.69,40.71 L548.02,40.35 L549.33,40.02 L550.60,39.70 L551.68,39.45 L552.73,39.25 L553.77,39.08 L554.79,38.94 L555.83,38.81 L556.88,38.68 L557.97,38.55 L559.10,38.40 L560.51,38.21 L561.96,38.02 L563.46,37.82 L564.98,37.63 L566.53,37.44 L568.11,37.26 L569.70,37.08 L571.30,36.90 L573.27,36.70 L575.51,36.48 L577.89,36.25 L580.24,36.04 L582.40,35.85 L584.24,35.68 L585.59,35.56 L586.30,35.50" fill="none" stroke="#3ee43e" stroke-width="1.0" stroke-linejoin="round"/>
<path d="M531.00,49.54 L533.20,53.34 L528.80,53.34 Z" fill="#14a014"/>
<path d="M540.20,40.94 L542.40,44.74 L538.00,44.74 Z" fill="#14a014"/>
<path d="M550.60,37.54 L552.80,41.34 L548.40,41.34 Z" fill="#14a014"/>
<path d="M559.10,37.94 L561.30,41.74 L556.90,41.74 Z" fill="#14a014"/>
<path d="M571.30,34.24 L573.50,38.04 L569.10,38.04 Z" fill="#14a014"/>
<path d="M586.30,33.34 L588.50,37.14 L584.10,37.14 Z" fill="#14a014"/>
<rect x="522.96" y="155.53" width="3.50" height="3.50" fill="#1a35d0"/>
<path d="M524.71,154.92 L526.91,158.72 L522.51,158.72 Z" fill="#14a014"/>
<rect x="625.10" y="135.60" width="58.60" height="27.70" fill="#fff" stroke="#aab0c0" stroke-width="0.9"/>
<path d="M634.30,138.75 L636.30,142.16 L632.30,142.16 Z" fill="#14a014"/>
<text x="644.10" y="143.56" class="lg">HP@MAF-7</text>
<rect x="632.80" y="147.95" width="3.00" height="3.00" fill="#1a35d0"/>
<text x="644.10" y="152.15" class="lg">HP@ZIF-8</text>
<circle cx="634.30" cy="158.04" r="1.75" fill="#ff5a1a"/>
<text x="644.10" y="160.74" class="lg">HP@ZIF-90</text>
<rect x="287.60" y="194.10" width="182.80" height="146.20" fill="none" stroke="#4b5459" stroke-width="1.7"/>
<line x1="304.22" y1="340.30" x2="304.22" y2="343.30" stroke="#4b5459" stroke-width="1"/>
<text x="304.22" y="350.70" text-anchor="middle" class="tk">0</text>
<line x1="337.45" y1="340.30" x2="337.45" y2="343.30" stroke="#4b5459" stroke-width="1"/>
<text x="337.45" y="350.70" text-anchor="middle" class="tk">20</text>
<line x1="370.69" y1="340.30" x2="370.69" y2="343.30" stroke="#4b5459" stroke-width="1"/>
<text x="370.69" y="350.70" text-anchor="middle" class="tk">40</text>
<line x1="403.93" y1="340.30" x2="403.93" y2="343.30" stroke="#4b5459" stroke-width="1"/>
<text x="403.93" y="350.70" text-anchor="middle" class="tk">60</text>
<line x1="437.16" y1="340.30" x2="437.16" y2="343.30" stroke="#4b5459" stroke-width="1"/>
<text x="437.16" y="350.70" text-anchor="middle" class="tk">80</text>
<line x1="470.40" y1="340.30" x2="470.40" y2="343.30" stroke="#4b5459" stroke-width="1"/>
<text x="470.40" y="350.70" text-anchor="middle" class="tk">100</text>
<line x1="320.84" y1="340.30" x2="320.84" y2="342.10" stroke="#4b5459" stroke-width="1"/>
<line x1="354.07" y1="340.30" x2="354.07" y2="342.10" stroke="#4b5459" stroke-width="1"/>
<line x1="387.31" y1="340.30" x2="387.31" y2="342.10" stroke="#4b5459" stroke-width="1"/>
<line x1="420.55" y1="340.30" x2="420.55" y2="342.10" stroke="#4b5459" stroke-width="1"/>
<line x1="453.78" y1="340.30" x2="453.78" y2="342.10" stroke="#4b5459" stroke-width="1"/>
<line x1="284.60" y1="328.12" x2="287.60" y2="328.12" stroke="#4b5459" stroke-width="1"/>
<text x="282.20" y="330.07" text-anchor="end" class="tk">0</text>
<line x1="284.60" y1="303.75" x2="287.60" y2="303.75" stroke="#4b5459" stroke-width="1"/>
<text x="282.20" y="305.70" text-anchor="end" class="tk">20</text>
<line x1="284.60" y1="279.38" x2="287.60" y2="279.38" stroke="#4b5459" stroke-width="1"/>
<text x="282.20" y="281.33" text-anchor="end" class="tk">40</text>
<line x1="284.60" y1="255.02" x2="287.60" y2="255.02" stroke="#4b5459" stroke-width="1"/>
<text x="282.20" y="256.97" text-anchor="end" class="tk">60</text>
<line x1="284.60" y1="230.65" x2="287.60" y2="230.65" stroke="#4b5459" stroke-width="1"/>
<text x="282.20" y="232.60" text-anchor="end" class="tk">80</text>
<line x1="284.60" y1="206.28" x2="287.60" y2="206.28" stroke="#4b5459" stroke-width="1"/>
<text x="282.20" y="208.23" text-anchor="end" class="tk">100</text>
<line x1="285.80" y1="315.93" x2="287.60" y2="315.93" stroke="#4b5459" stroke-width="1"/>
<line x1="285.80" y1="291.57" x2="287.60" y2="291.57" stroke="#4b5459" stroke-width="1"/>
<line x1="285.80" y1="267.20" x2="287.60" y2="267.20" stroke="#4b5459" stroke-width="1"/>
<line x1="285.80" y1="242.83" x2="287.60" y2="242.83" stroke="#4b5459" stroke-width="1"/>
<line x1="285.80" y1="218.47" x2="287.60" y2="218.47" stroke="#4b5459" stroke-width="1"/>
<text x="379.50" y="362.70" text-anchor="middle" class="axl" style="font-size:7.4px">Time (min)</text>
<text transform="translate(266.00,272.00) rotate(-90)" text-anchor="middle" class="axl">Cumulative release (%)</text>
<text x="259.20" y="192.80" class="plab">(d)</text>
<path d="M313.00,281.70 V287.10 M311.60,281.70 H314.40 M311.60,287.10 H314.40" stroke="#ff9470" stroke-width="0.75" fill="none"/>
<path d="M321.30,271.83 V277.97 M319.90,271.83 H322.70 M319.90,277.97 H322.70" stroke="#ff9470" stroke-width="0.75" fill="none"/>
<path d="M329.80,258.55 V265.45 M328.40,258.55 H331.20 M328.40,265.45 H331.20" stroke="#ff9470" stroke-width="0.75" fill="none"/>
<path d="M338.00,245.99 V253.61 M336.60,245.99 H339.40 M336.60,253.61 H339.40" stroke="#ff9470" stroke-width="0.75" fill="none"/>
<path d="M346.30,239.72 V248.08 M344.90,239.72 H347.70 M344.90,248.08 H347.70" stroke="#ff9470" stroke-width="0.75" fill="none"/>
<path d="M355.40,228.01 V237.19 M354.00,228.01 H356.80 M354.00,237.19 H356.80" stroke="#ff9470" stroke-width="0.75" fill="none"/>
<path d="M363.00,217.87 V227.73 M361.60,217.87 H364.40 M361.60,227.73 H364.40" stroke="#ff9470" stroke-width="0.75" fill="none"/>
<path d="M371.30,214.70 V225.30 M369.90,214.70 H372.70 M369.90,225.30 H372.70" stroke="#ff9470" stroke-width="0.75" fill="none"/>
<path d="M379.70,212.33 V223.67 M378.30,212.33 H381.10 M378.30,223.67 H381.10" stroke="#ff9470" stroke-width="0.75" fill="none"/>
<path d="M388.20,207.15 V219.25 M386.80,207.15 H389.60 M386.80,219.25 H389.60" stroke="#ff9470" stroke-width="0.75" fill="none"/>
<path d="M396.50,202.68 V215.52 M395.10,202.68 H397.90 M395.10,215.52 H397.90" stroke="#ff9470" stroke-width="0.75" fill="none"/>
<path d="M404.80,203.21 V216.79 M403.40,203.21 H406.20 M403.40,216.79 H406.20" stroke="#ff9470" stroke-width="0.75" fill="none"/>
<path d="M421.20,201.58 V216.62 M419.80,201.58 H422.60 M419.80,216.62 H422.60" stroke="#ff9470" stroke-width="0.75" fill="none"/>
<path d="M437.70,199.14 V215.66 M436.30,199.14 H439.10 M436.30,215.66 H439.10" stroke="#ff9470" stroke-width="0.75" fill="none"/>
<path d="M454.30,197.10 V215.10 M452.90,197.10 H455.70 M452.90,215.10 H455.70" stroke="#ff9470" stroke-width="0.75" fill="none"/>
<path d="M304.22,328.12 L304.22,327.85 L304.22,327.84 L304.22,327.83 L304.22,327.83 L304.22,327.82 L304.22,327.81 L304.22,327.80 L304.22,327.79 L304.22,327.77 L304.22,327.76 L304.22,327.75 L304.22,327.74 L304.22,327.73 L304.22,327.72 L304.22,327.70 L304.22,327.69 L304.22,327.68 L304.22,327.66 L304.22,327.65 L304.22,327.63 L304.22,327.61 L304.22,327.60 L304.22,327.58 L304.22,327.56 L304.22,327.55 L304.22,327.53 L304.22,327.51 L304.22,327.49 L304.23,327.47 L304.23,327.45 L304.23,327.43 L304.23,327.40 L304.23,327.38 L304.23,327.36 L304.23,327.33 L304.23,327.31 L304.23,327.28 L304.23,327.25 L304.23,327.23 L304.23,327.20 L304.23,327.17 L304.23,327.14 L304.23,327.10 L304.23,327.07 L304.23,327.04 L304.24,327.00 L304.24,326.97 L304.24,326.93 L304.24,326.89 L304.24,326.85 L304.24,326.81 L304.24,326.77 L304.24,326.73 L304.24,326.68 L304.25,326.63 L304.25,326.59 L304.25,326.54 L304.25,326.49 L304.25,326.43 L304.25,326.38 L304.26,326.32 L304.26,326.27 L304.26,326.21 L304.26,326.14 L304.26,326.08 L304.27,326.01 L304.27,325.95 L304.27,325.88 L304.28,325.80 L304.28,325.73 L304.28,325.65 L304.29,325.57 L304.29,325.49 L304.29,325.41 L304.30,325.32 L304.30,325.23 L304.31,325.14 L304.31,325.04 L304.31,324.94 L304.32,324.84 L304.33,324.74 L304.33,324.63 L304.34,324.52 L304.34,324.40 L304.35,324.28 L304.36,324.16 L304.36,324.03 L304.37,323.90 L304.38,323.77 L304.39,323.63 L304.40,323.48 L304.41,323.34 L304.42,323.18 L304.43,323.03 L304.44,322.86 L304.45,322.70 L304.47,322.52 L304.48,322.35 L304.49,322.16 L304.51,321.97 L304.52,321.78 L304.54,321.58 L304.56,321.37 L304.57,321.16 L304.59,320.93 L304.61,320.71 L304.63,320.47 L304.66,320.23 L304.68,319.98 L304.70,319.73 L304.73,319.46 L304.76,319.19 L304.79,318.91 L304.82,318.62 L304.85,318.32 L304.88,318.01 L304.92,317.70 L304.96,317.37 L305.00,317.04 L305.04,316.69 L305.08,316.34 L305.13,315.97 L305.18,315.59 L305.23,315.20 L305.28,314.80 L305.34,314.39 L305.40,313.97 L305.46,313.53 L305.53,313.08 L305.60,312.62 L305.67,312.15 L305.75,311.66 L305.83,311.16 L305.92,310.64 L306.01,310.11 L306.10,309.56 L306.20,309.00 L306.31,308.42 L306.42,307.83 L306.54,307.22 L306.67,306.59 L306.80,305.95 L306.93,305.29 L307.08,304.61 L307.23,303.91 L307.39,303.20 L307.56,302.46 L307.74,301.71 L307.93,300.93 L308.13,300.14 L308.34,299.33 L308.56,298.49 L308.79,297.64 L309.04,296.76 L309.29,295.86 L309.56,294.94 L309.85,294.00 L310.15,293.04 L310.47,292.05 L310.80,291.04 L311.16,290.00 L311.53,288.95 L311.92,287.87 L312.33,286.76 L312.76,285.63 L313.22,284.48 L313.70,283.30 L314.21,282.10 L314.74,280.88 L315.31,279.63 L315.90,278.35 L316.52,277.05 L317.18,275.73 L317.88,274.39 L318.61,273.02 L319.38,271.62 L320.19,270.21 L321.04,268.77 L321.94,267.30 L322.89,265.82 L323.89,264.31 L324.94,262.78 L326.05,261.24 L327.22,259.67 L328.45,258.08 L329.74,256.48 L331.11,254.85 L332.55,253.22 L334.06,251.56 L335.66,249.89 L337.34,248.21 L339.11,246.52 L340.98,244.81 L342.94,243.10 L345.01,241.38 L347.19,239.65 L349.49,237.92 L351.92,236.18 L354.47,234.44 L357.15,232.71 L359.99,230.97 L362.97,229.24 L366.11,227.51 L369.42,225.80 L372.91,224.09 L376.58,222.39 L380.45,220.71 L384.53,219.04 L388.83,217.39 L393.35,215.76 L398.12,214.16 L403.14,212.58 L408.43,211.02 L414.01,209.49 L419.88,207.99 L426.06,206.53 L432.58,205.09 L439.45,203.70 L446.68,202.34 L454.30,201.02" fill="none" stroke="#ff7848" stroke-width="1.0" stroke-linejoin="round"/>
<circle cx="313.00" cy="284.40" r="2.05" fill="#ff5a1a"/>
<circle cx="321.30" cy="274.90" r="2.05" fill="#ff5a1a"/>
<circle cx="329.80" cy="262.00" r="2.05" fill="#ff5a1a"/>
<circle cx="338.00" cy="249.80" r="2.05" fill="#ff5a1a"/>
<circle cx="346.30" cy="243.90" r="2.05" fill="#ff5a1a"/>
<circle cx="355.40" cy="232.60" r="2.05" fill="#ff5a1a"/>
<circle cx="363.00" cy="222.80" r="2.05" fill="#ff5a1a"/>
<circle cx="371.30" cy="220.00" r="2.05" fill="#ff5a1a"/>
<circle cx="379.70" cy="218.00" r="2.05" fill="#ff5a1a"/>
<circle cx="388.20" cy="213.20" r="2.05" fill="#ff5a1a"/>
<circle cx="396.50" cy="209.10" r="2.05" fill="#ff5a1a"/>
<circle cx="404.80" cy="210.00" r="2.05" fill="#ff5a1a"/>
<circle cx="421.20" cy="209.10" r="2.05" fill="#ff5a1a"/>
<circle cx="437.70" cy="207.40" r="2.05" fill="#ff5a1a"/>
<circle cx="454.30" cy="206.10" r="2.05" fill="#ff5a1a"/>
<path d="M315.10,227.90 V236.90 M313.70,227.90 H316.50 M313.70,236.90 H316.50" stroke="#5a74e6" stroke-width="0.75" fill="none"/>
<path d="M321.20,222.08 V231.32 M319.80,222.08 H322.60 M319.80,231.32 H322.60" stroke="#5a74e6" stroke-width="0.75" fill="none"/>
<path d="M329.50,214.83 V224.37 M328.10,214.83 H330.90 M328.10,224.37 H330.90" stroke="#5a74e6" stroke-width="0.75" fill="none"/>
<path d="M337.70,212.77 V222.63 M336.30,212.77 H339.10 M336.30,222.63 H339.10" stroke="#5a74e6" stroke-width="0.75" fill="none"/>
<path d="M346.70,210.80 V221.00 M345.30,210.80 H348.10 M345.30,221.00 H348.10" stroke="#5a74e6" stroke-width="0.75" fill="none"/>
<path d="M354.50,210.05 V220.55 M353.10,210.05 H355.90 M353.10,220.55 H355.90" stroke="#5a74e6" stroke-width="0.75" fill="none"/>
<path d="M363.00,206.29 V217.11 M361.60,206.29 H364.40 M361.60,217.11 H364.40" stroke="#5a74e6" stroke-width="0.75" fill="none"/>
<path d="M371.30,205.13 V216.27 M369.90,205.13 H372.70 M369.90,216.27 H372.70" stroke="#5a74e6" stroke-width="0.75" fill="none"/>
<path d="M379.70,203.98 V215.42 M378.30,203.98 H381.10 M378.30,215.42 H381.10" stroke="#5a74e6" stroke-width="0.75" fill="none"/>
<path d="M388.20,201.81 V213.59 M386.80,201.81 H389.60 M386.80,213.59 H389.60" stroke="#5a74e6" stroke-width="0.75" fill="none"/>
<path d="M396.50,200.46 V212.54 M395.10,200.46 H397.90 M395.10,212.54 H397.90" stroke="#5a74e6" stroke-width="0.75" fill="none"/>
<path d="M404.80,199.80 V212.20 M403.40,199.80 H406.20 M403.40,212.20 H406.20" stroke="#5a74e6" stroke-width="0.75" fill="none"/>
<path d="M304.22,328.12 L304.22,315.09 L304.22,314.91 L304.22,314.73 L304.22,314.54 L304.22,314.36 L304.22,314.17 L304.22,313.98 L304.22,313.78 L304.22,313.58 L304.22,313.39 L304.22,313.18 L304.22,312.98 L304.22,312.77 L304.22,312.56 L304.22,312.35 L304.22,312.13 L304.22,311.92 L304.22,311.70 L304.22,311.47 L304.22,311.25 L304.22,311.02 L304.22,310.79 L304.22,310.55 L304.22,310.31 L304.22,310.07 L304.22,309.83 L304.22,309.58 L304.22,309.33 L304.22,309.08 L304.23,308.82 L304.23,308.56 L304.23,308.30 L304.23,308.04 L304.23,307.77 L304.23,307.50 L304.23,307.22 L304.23,306.94 L304.23,306.66 L304.23,306.38 L304.23,306.09 L304.23,305.80 L304.23,305.50 L304.23,305.20 L304.23,304.90 L304.23,304.60 L304.23,304.29 L304.23,303.97 L304.24,303.66 L304.24,303.34 L304.24,303.01 L304.24,302.69 L304.24,302.35 L304.24,302.02 L304.24,301.68 L304.24,301.34 L304.24,300.99 L304.25,300.64 L304.25,300.29 L304.25,299.93 L304.25,299.57 L304.25,299.20 L304.25,298.83 L304.26,298.46 L304.26,298.08 L304.26,297.70 L304.26,297.31 L304.26,296.92 L304.27,296.53 L304.27,296.13 L304.27,295.73 L304.27,295.32 L304.28,294.91 L304.28,294.50 L304.28,294.08 L304.29,293.65 L304.29,293.23 L304.29,292.79 L304.30,292.36 L304.30,291.92 L304.31,291.47 L304.31,291.02 L304.32,290.57 L304.32,290.11 L304.33,289.65 L304.33,289.18 L304.34,288.71 L304.34,288.24 L304.35,287.76 L304.36,287.27 L304.36,286.79 L304.37,286.29 L304.38,285.80 L304.39,285.30 L304.40,284.79 L304.41,284.28 L304.42,283.77 L304.43,283.25 L304.44,282.72 L304.45,282.20 L304.46,281.67 L304.47,281.13 L304.48,280.59 L304.50,280.05 L304.51,279.50 L304.53,278.94 L304.54,278.39 L304.56,277.83 L304.58,277.26 L304.60,276.69 L304.62,276.12 L304.64,275.54 L304.66,274.96 L304.68,274.37 L304.71,273.78 L304.73,273.19 L304.76,272.59 L304.79,271.99 L304.81,271.39 L304.85,270.78 L304.88,270.17 L304.91,269.55 L304.95,268.93 L304.98,268.31 L305.02,267.68 L305.07,267.05 L305.11,266.42 L305.16,265.78 L305.20,265.14 L305.25,264.50 L305.31,263.85 L305.36,263.20 L305.42,262.55 L305.49,261.90 L305.55,261.24 L305.62,260.58 L305.69,259.92 L305.77,259.25 L305.85,258.58 L305.93,257.92 L306.02,257.24 L306.11,256.57 L306.21,255.89 L306.31,255.21 L306.42,254.54 L306.53,253.85 L306.65,253.17 L306.78,252.49 L306.91,251.80 L307.05,251.11 L307.20,250.42 L307.35,249.73 L307.51,249.04 L307.68,248.35 L307.86,247.66 L308.05,246.97 L308.25,246.28 L308.45,245.58 L308.67,244.89 L308.90,244.20 L309.14,243.50 L309.40,242.81 L309.66,242.12 L309.94,241.42 L310.24,240.73 L310.55,240.04 L310.88,239.35 L311.22,238.66 L311.58,237.97 L311.96,237.29 L312.36,236.60 L312.78,235.92 L313.22,235.23 L313.69,234.55 L314.17,233.87 L314.69,233.20 L315.23,232.52 L315.80,231.85 L316.39,231.18 L317.02,230.51 L317.68,229.85 L318.37,229.18 L319.10,228.52 L319.87,227.87 L320.68,227.21 L321.53,226.56 L322.42,225.91 L323.36,225.27 L324.35,224.62 L325.38,223.99 L326.47,223.35 L327.62,222.72 L328.83,222.09 L330.10,221.46 L331.43,220.84 L332.84,220.23 L334.31,219.61 L335.86,219.00 L337.50,218.39 L339.21,217.79 L341.02,217.19 L342.91,216.59 L344.91,215.99 L347.01,215.40 L349.21,214.82 L351.53,214.23 L353.97,213.65 L356.54,213.07 L359.24,212.49 L362.07,211.92 L365.05,211.34 L368.19,210.77 L371.49,210.20 L374.96,209.64 L378.61,209.07 L382.44,208.50 L386.48,207.94 L390.72,207.37 L395.18,206.81 L399.87,206.24 L404.80,205.68" fill="none" stroke="#3655ea" stroke-width="1.0" stroke-linejoin="round"/>
<rect x="313.35" y="230.65" width="3.50" height="3.50" fill="#1a35d0"/>
<rect x="319.45" y="224.95" width="3.50" height="3.50" fill="#1a35d0"/>
<rect x="327.75" y="217.85" width="3.50" height="3.50" fill="#1a35d0"/>
<rect x="335.95" y="215.95" width="3.50" height="3.50" fill="#1a35d0"/>
<rect x="344.95" y="214.15" width="3.50" height="3.50" fill="#1a35d0"/>
<rect x="352.75" y="213.55" width="3.50" height="3.50" fill="#1a35d0"/>
<rect x="361.25" y="209.95" width="3.50" height="3.50" fill="#1a35d0"/>
<rect x="369.55" y="208.95" width="3.50" height="3.50" fill="#1a35d0"/>
<rect x="377.95" y="207.95" width="3.50" height="3.50" fill="#1a35d0"/>
<rect x="386.45" y="205.95" width="3.50" height="3.50" fill="#1a35d0"/>
<rect x="394.75" y="204.75" width="3.50" height="3.50" fill="#1a35d0"/>
<rect x="403.05" y="204.25" width="3.50" height="3.50" fill="#1a35d0"/>
<path d="M307.80,206.20 V217.00 M306.40,206.20 H309.20 M306.40,217.00 H309.20" stroke="#48e448" stroke-width="0.75" fill="none"/>
<path d="M312.90,205.00 V215.80 M311.50,205.00 H314.30 M311.50,215.80 H314.30" stroke="#48e448" stroke-width="0.75" fill="none"/>
<path d="M318.20,204.10 V214.90 M316.80,204.10 H319.60 M316.80,214.90 H319.60" stroke="#48e448" stroke-width="0.75" fill="none"/>
<path d="M323.10,204.10 V214.90 M321.70,204.10 H324.50 M321.70,214.90 H324.50" stroke="#48e448" stroke-width="0.75" fill="none"/>
<path d="M329.50,202.50 V213.30 M328.10,202.50 H330.90 M328.10,213.30 H330.90" stroke="#48e448" stroke-width="0.75" fill="none"/>
<path d="M337.70,201.90 V212.70 M336.30,201.90 H339.10 M336.30,212.70 H339.10" stroke="#48e448" stroke-width="0.75" fill="none"/>
<path d="M346.30,202.20 V213.00 M344.90,202.20 H347.70 M344.90,213.00 H347.70" stroke="#48e448" stroke-width="0.75" fill="none"/>
<path d="M354.50,200.50 V211.30 M353.10,200.50 H355.90 M353.10,211.30 H355.90" stroke="#48e448" stroke-width="0.75" fill="none"/>
<path d="M304.22,328.12 L304.24,323.93 L304.27,315.86 L304.32,304.96 L304.37,292.29 L304.42,278.90 L304.46,265.85 L304.49,254.20 L304.50,245.00 L304.47,240.62 L304.40,236.37 L304.31,232.30 L304.23,228.49 L304.17,225.00 L304.17,221.89 L304.24,219.24 L304.40,217.10 L304.47,216.45 L304.54,215.88 L304.61,215.37 L304.69,214.92 L304.80,214.50 L304.92,214.12 L305.09,213.75 L305.30,213.40 L305.52,213.10 L305.77,212.84 L306.04,212.60 L306.33,212.38 L306.65,212.18 L307.00,211.99 L307.39,211.80 L307.80,211.60 L308.58,211.27 L309.47,210.97 L310.44,210.68 L311.50,210.41 L312.63,210.16 L313.81,209.92 L315.04,209.70 L316.30,209.50 L318.25,209.25 L320.37,209.06 L322.63,208.91 L324.98,208.79 L327.40,208.69 L329.85,208.58 L332.30,208.46 L334.70,208.30 L337.47,208.08 L340.61,207.82 L343.90,207.54 L347.15,207.25 L350.14,206.98 L352.66,206.76 L354.52,206.59 L355.50,206.50" fill="none" stroke="#3ee43e" stroke-width="1.0" stroke-linejoin="round"/>
<path d="M307.80,209.24 L310.00,213.04 L305.60,213.04 Z" fill="#14a014"/>
<path d="M312.90,208.04 L315.10,211.84 L310.70,211.84 Z" fill="#14a014"/>
<path d="M318.20,207.14 L320.40,210.94 L316.00,210.94 Z" fill="#14a014"/>
<path d="M323.10,207.14 L325.30,210.94 L320.90,210.94 Z" fill="#14a014"/>
<path d="M329.50,205.54 L331.70,209.34 L327.30,209.34 Z" fill="#14a014"/>
<path d="M337.70,204.94 L339.90,208.74 L335.50,208.74 Z" fill="#14a014"/>
<path d="M346.30,205.24 L348.50,209.04 L344.10,209.04 Z" fill="#14a014"/>
<path d="M354.50,203.54 L356.70,207.34 L352.30,207.34 Z" fill="#14a014"/>
<rect x="302.47" y="326.37" width="3.50" height="3.50" fill="#1a35d0"/>
<path d="M304.22,325.76 L306.42,329.56 L302.02,329.56 Z" fill="#14a014"/>
<rect x="403.60" y="308.30" width="58.10" height="27.40" fill="#fff" stroke="#aab0c0" stroke-width="0.9"/>
<path d="M412.80,311.40 L414.80,314.80 L410.80,314.80 Z" fill="#14a014"/>
<text x="422.60" y="316.21" class="lg">DS@MAF-7</text>
<rect x="411.30" y="320.50" width="3.00" height="3.00" fill="#1a35d0"/>
<text x="422.60" y="324.70" class="lg">DS@ZIF-8</text>
<circle cx="412.80" cy="330.49" r="1.75" fill="#ff5a1a"/>
<text x="422.60" y="333.19" class="lg">DS@ZIF-90</text>
<rect x="509.50" y="194.50" width="182.50" height="146.70" fill="none" stroke="#4b5459" stroke-width="1.7"/>
<line x1="526.09" y1="341.20" x2="526.09" y2="344.20" stroke="#4b5459" stroke-width="1"/>
<text x="526.09" y="351.60" text-anchor="middle" class="tk">0</text>
<line x1="559.27" y1="341.20" x2="559.27" y2="344.20" stroke="#4b5459" stroke-width="1"/>
<text x="559.27" y="351.60" text-anchor="middle" class="tk">20</text>
<line x1="592.45" y1="341.20" x2="592.45" y2="344.20" stroke="#4b5459" stroke-width="1"/>
<text x="592.45" y="351.60" text-anchor="middle" class="tk">40</text>
<line x1="625.64" y1="341.20" x2="625.64" y2="344.20" stroke="#4b5459" stroke-width="1"/>
<text x="625.64" y="351.60" text-anchor="middle" class="tk">60</text>
<line x1="658.82" y1="341.20" x2="658.82" y2="344.20" stroke="#4b5459" stroke-width="1"/>
<text x="658.82" y="351.60" text-anchor="middle" class="tk">80</text>
<line x1="692.00" y1="341.20" x2="692.00" y2="344.20" stroke="#4b5459" stroke-width="1"/>
<text x="692.00" y="351.60" text-anchor="middle" class="tk">100</text>
<line x1="542.68" y1="341.20" x2="542.68" y2="343.00" stroke="#4b5459" stroke-width="1"/>
<line x1="575.86" y1="341.20" x2="575.86" y2="343.00" stroke="#4b5459" stroke-width="1"/>
<line x1="609.05" y1="341.20" x2="609.05" y2="343.00" stroke="#4b5459" stroke-width="1"/>
<line x1="642.23" y1="341.20" x2="642.23" y2="343.00" stroke="#4b5459" stroke-width="1"/>
<line x1="675.41" y1="341.20" x2="675.41" y2="343.00" stroke="#4b5459" stroke-width="1"/>
<line x1="506.50" y1="328.97" x2="509.50" y2="328.97" stroke="#4b5459" stroke-width="1"/>
<text x="505.60" y="330.92" text-anchor="end" class="tk">0</text>
<line x1="506.50" y1="304.52" x2="509.50" y2="304.52" stroke="#4b5459" stroke-width="1"/>
<text x="505.60" y="306.47" text-anchor="end" class="tk">20</text>
<line x1="506.50" y1="280.07" x2="509.50" y2="280.07" stroke="#4b5459" stroke-width="1"/>
<text x="505.60" y="282.02" text-anchor="end" class="tk">40</text>
<line x1="506.50" y1="255.62" x2="509.50" y2="255.62" stroke="#4b5459" stroke-width="1"/>
<text x="505.60" y="257.57" text-anchor="end" class="tk">60</text>
<line x1="506.50" y1="231.18" x2="509.50" y2="231.18" stroke="#4b5459" stroke-width="1"/>
<text x="505.60" y="233.12" text-anchor="end" class="tk">80</text>
<line x1="506.50" y1="206.72" x2="509.50" y2="206.72" stroke="#4b5459" stroke-width="1"/>
<text x="505.60" y="208.67" text-anchor="end" class="tk">100</text>
<line x1="507.70" y1="316.75" x2="509.50" y2="316.75" stroke="#4b5459" stroke-width="1"/>
<line x1="507.70" y1="292.30" x2="509.50" y2="292.30" stroke="#4b5459" stroke-width="1"/>
<line x1="507.70" y1="267.85" x2="509.50" y2="267.85" stroke="#4b5459" stroke-width="1"/>
<line x1="507.70" y1="243.40" x2="509.50" y2="243.40" stroke="#4b5459" stroke-width="1"/>
<line x1="507.70" y1="218.95" x2="509.50" y2="218.95" stroke="#4b5459" stroke-width="1"/>
<text x="600.50" y="363.30" text-anchor="middle" class="axl" style="font-size:7.4px">Time (min)</text>
<text transform="translate(488.00,272.20) rotate(-90)" text-anchor="middle" class="axl">Cumulative release (%)</text>
<text x="489.00" y="192.80" class="plab">(e)</text>
<path d="M534.80,273.20 V279.20 M533.40,273.20 H536.20 M533.40,279.20 H536.20" stroke="#ff9470" stroke-width="0.75" fill="none"/>
<path d="M543.10,265.19 V271.61 M541.70,265.19 H544.50 M541.70,271.61 H544.50" stroke="#ff9470" stroke-width="0.75" fill="none"/>
<path d="M551.60,249.48 V256.32 M550.20,249.48 H553.00 M550.20,256.32 H553.00" stroke="#ff9470" stroke-width="0.75" fill="none"/>
<path d="M559.30,244.19 V251.41 M557.90,244.19 H560.70 M557.90,251.41 H560.70" stroke="#ff9470" stroke-width="0.75" fill="none"/>
<path d="M567.90,236.68 V244.32 M566.50,236.68 H569.30 M566.50,244.32 H569.30" stroke="#ff9470" stroke-width="0.75" fill="none"/>
<path d="M576.40,226.37 V234.43 M575.00,226.37 H577.80 M575.00,234.43 H577.80" stroke="#ff9470" stroke-width="0.75" fill="none"/>
<path d="M584.30,222.27 V230.73 M582.90,222.27 H585.70 M582.90,230.73 H585.70" stroke="#ff9470" stroke-width="0.75" fill="none"/>
<path d="M592.40,216.67 V225.53 M591.00,216.67 H593.80 M591.00,225.53 H593.80" stroke="#ff9470" stroke-width="0.75" fill="none"/>
<path d="M601.00,213.46 V222.74 M599.60,213.46 H602.40 M599.60,222.74 H602.40" stroke="#ff9470" stroke-width="0.75" fill="none"/>
<path d="M609.60,209.44 V219.16 M608.20,209.44 H611.00 M608.20,219.16 H611.00" stroke="#ff9470" stroke-width="0.75" fill="none"/>
<path d="M617.90,206.04 V216.16 M616.50,206.04 H619.30 M616.50,216.16 H619.30" stroke="#ff9470" stroke-width="0.75" fill="none"/>
<path d="M626.10,205.33 V215.87 M624.70,205.33 H627.50 M624.70,215.87 H627.50" stroke="#ff9470" stroke-width="0.75" fill="none"/>
<path d="M642.80,203.22 V214.58 M641.40,203.22 H644.20 M641.40,214.58 H644.20" stroke="#ff9470" stroke-width="0.75" fill="none"/>
<path d="M659.30,201.11 V213.29 M657.90,201.11 H660.70 M657.90,213.29 H660.70" stroke="#ff9470" stroke-width="0.75" fill="none"/>
<path d="M675.80,199.90 V212.90 M674.40,199.90 H677.20 M674.40,212.90 H677.20" stroke="#ff9470" stroke-width="0.75" fill="none"/>
<path d="M526.09,328.97 L526.09,328.49 L526.09,328.47 L526.09,328.46 L526.09,328.44 L526.09,328.43 L526.09,328.41 L526.09,328.40 L526.09,328.38 L526.09,328.36 L526.09,328.34 L526.09,328.32 L526.09,328.30 L526.09,328.28 L526.09,328.26 L526.09,328.24 L526.09,328.22 L526.09,328.20 L526.09,328.18 L526.10,328.15 L526.10,328.13 L526.10,328.10 L526.10,328.08 L526.10,328.05 L526.10,328.02 L526.10,327.99 L526.10,327.96 L526.10,327.93 L526.10,327.90 L526.10,327.87 L526.10,327.84 L526.10,327.81 L526.10,327.77 L526.10,327.74 L526.10,327.70 L526.10,327.66 L526.10,327.62 L526.10,327.58 L526.10,327.54 L526.10,327.50 L526.10,327.45 L526.10,327.41 L526.10,327.36 L526.11,327.32 L526.11,327.27 L526.11,327.22 L526.11,327.16 L526.11,327.11 L526.11,327.06 L526.11,327.00 L526.11,326.94 L526.11,326.88 L526.11,326.82 L526.12,326.75 L526.12,326.69 L526.12,326.62 L526.12,326.55 L526.12,326.48 L526.12,326.41 L526.12,326.33 L526.13,326.25 L526.13,326.17 L526.13,326.09 L526.13,326.01 L526.14,325.92 L526.14,325.83 L526.14,325.74 L526.14,325.64 L526.15,325.54 L526.15,325.44 L526.15,325.34 L526.15,325.23 L526.16,325.12 L526.16,325.01 L526.17,324.89 L526.17,324.77 L526.17,324.65 L526.18,324.52 L526.18,324.39 L526.19,324.26 L526.19,324.12 L526.20,323.98 L526.20,323.83 L526.21,323.68 L526.22,323.52 L526.22,323.37 L526.23,323.20 L526.24,323.03 L526.25,322.86 L526.25,322.68 L526.26,322.50 L526.27,322.31 L526.28,322.12 L526.29,321.92 L526.30,321.71 L526.31,321.50 L526.33,321.29 L526.34,321.06 L526.35,320.84 L526.36,320.60 L526.38,320.36 L526.39,320.11 L526.41,319.85 L526.43,319.59 L526.45,319.32 L526.47,319.05 L526.49,318.76 L526.51,318.47 L526.53,318.17 L526.55,317.86 L526.58,317.54 L526.60,317.21 L526.63,316.88 L526.66,316.53 L526.69,316.18 L526.72,315.82 L526.75,315.45 L526.79,315.06 L526.83,314.67 L526.87,314.27 L526.91,313.85 L526.95,313.43 L527.00,312.99 L527.05,312.54 L527.10,312.08 L527.15,311.61 L527.21,311.13 L527.27,310.63 L527.33,310.12 L527.40,309.60 L527.47,309.07 L527.54,308.52 L527.62,307.96 L527.70,307.38 L527.79,306.79 L527.88,306.18 L527.97,305.56 L528.07,304.93 L528.18,304.27 L528.29,303.61 L528.41,302.93 L528.53,302.23 L528.66,301.51 L528.80,300.78 L528.95,300.03 L529.10,299.26 L529.26,298.48 L529.43,297.68 L529.61,296.86 L529.80,296.02 L529.99,295.16 L530.20,294.29 L530.42,293.39 L530.65,292.48 L530.90,291.55 L531.15,290.59 L531.43,289.62 L531.71,288.63 L532.01,287.62 L532.33,286.59 L532.66,285.54 L533.01,284.47 L533.38,283.38 L533.77,282.27 L534.18,281.14 L534.62,279.99 L535.07,278.82 L535.55,277.63 L536.06,276.42 L536.59,275.19 L537.15,273.94 L537.75,272.67 L538.37,271.38 L539.03,270.07 L539.72,268.75 L540.45,267.40 L541.21,266.04 L542.02,264.66 L542.88,263.27 L543.77,261.86 L544.72,260.43 L545.71,258.99 L546.76,257.53 L547.87,256.06 L549.03,254.58 L550.26,253.08 L551.55,251.57 L552.92,250.06 L554.35,248.53 L555.86,246.99 L557.45,245.45 L559.13,243.90 L560.90,242.34 L562.76,240.79 L564.72,239.22 L566.79,237.66 L568.96,236.10 L571.26,234.53 L573.67,232.97 L576.22,231.42 L578.90,229.87 L581.72,228.32 L584.70,226.79 L587.83,225.26 L591.14,223.75 L594.61,222.25 L598.28,220.76 L602.14,219.29 L606.21,217.84 L610.49,216.41 L615.01,215.00 L619.76,213.61 L624.77,212.24 L630.05,210.90 L635.61,209.59 L641.47,208.30 L647.64,207.04 L654.14,205.82 L660.99,204.62 L668.20,203.46 L675.80,202.34" fill="none" stroke="#ff7848" stroke-width="1.0" stroke-linejoin="round"/>
<circle cx="534.80" cy="276.20" r="2.05" fill="#ff5a1a"/>
<circle cx="543.10" cy="268.40" r="2.05" fill="#ff5a1a"/>
<circle cx="551.60" cy="252.90" r="2.05" fill="#ff5a1a"/>
<circle cx="559.30" cy="247.80" r="2.05" fill="#ff5a1a"/>
<circle cx="567.90" cy="240.50" r="2.05" fill="#ff5a1a"/>
<circle cx="576.40" cy="230.40" r="2.05" fill="#ff5a1a"/>
<circle cx="584.30" cy="226.50" r="2.05" fill="#ff5a1a"/>
<circle cx="592.40" cy="221.10" r="2.05" fill="#ff5a1a"/>
<circle cx="601.00" cy="218.10" r="2.05" fill="#ff5a1a"/>
<circle cx="609.60" cy="214.30" r="2.05" fill="#ff5a1a"/>
<circle cx="617.90" cy="211.10" r="2.05" fill="#ff5a1a"/>
<circle cx="626.10" cy="210.60" r="2.05" fill="#ff5a1a"/>
<circle cx="642.80" cy="208.90" r="2.05" fill="#ff5a1a"/>
<circle cx="659.30" cy="207.20" r="2.05" fill="#ff5a1a"/>
<circle cx="675.80" cy="206.40" r="2.05" fill="#ff5a1a"/>
<path d="M536.50,227.00 V236.00 M535.10,227.00 H537.90 M535.10,236.00 H537.90" stroke="#5a74e6" stroke-width="0.75" fill="none"/>
<path d="M542.60,221.10 V230.30 M541.20,221.10 H544.00 M541.20,230.30 H544.00" stroke="#5a74e6" stroke-width="0.75" fill="none"/>
<path d="M551.20,216.25 V225.75 M549.80,216.25 H552.60 M549.80,225.75 H552.60" stroke="#5a74e6" stroke-width="0.75" fill="none"/>
<path d="M559.10,213.72 V223.48 M557.70,213.72 H560.50 M557.70,223.48 H560.50" stroke="#5a74e6" stroke-width="0.75" fill="none"/>
<path d="M568.30,209.87 V219.93 M566.90,209.87 H569.70 M566.90,219.93 H569.70" stroke="#5a74e6" stroke-width="0.75" fill="none"/>
<path d="M576.20,207.34 V217.66 M574.80,207.34 H577.60 M574.80,217.66 H577.60" stroke="#5a74e6" stroke-width="0.75" fill="none"/>
<path d="M584.30,205.80 V216.40 M582.90,205.80 H585.70 M582.90,216.40 H585.70" stroke="#5a74e6" stroke-width="0.75" fill="none"/>
<path d="M592.40,204.16 V215.04 M591.00,204.16 H593.80 M591.00,215.04 H593.80" stroke="#5a74e6" stroke-width="0.75" fill="none"/>
<path d="M601.00,201.82 V212.98 M599.60,201.82 H602.40 M599.60,212.98 H602.40" stroke="#5a74e6" stroke-width="0.75" fill="none"/>
<path d="M609.60,200.68 V212.12 M608.20,200.68 H611.00 M608.20,212.12 H611.00" stroke="#5a74e6" stroke-width="0.75" fill="none"/>
<path d="M617.90,199.84 V211.56 M616.50,199.84 H619.30 M616.50,211.56 H619.30" stroke="#5a74e6" stroke-width="0.75" fill="none"/>
<path d="M626.10,199.70 V211.70 M624.70,199.70 H627.50 M624.70,211.70 H627.50" stroke="#5a74e6" stroke-width="0.75" fill="none"/>
<path d="M526.09,328.97 L526.09,308.68 L526.09,308.44 L526.09,308.21 L526.09,307.97 L526.09,307.74 L526.09,307.49 L526.09,307.25 L526.09,307.01 L526.09,306.76 L526.09,306.51 L526.09,306.25 L526.09,306.00 L526.09,305.74 L526.09,305.48 L526.09,305.22 L526.09,304.95 L526.09,304.69 L526.09,304.42 L526.10,304.14 L526.10,303.87 L526.10,303.59 L526.10,303.31 L526.10,303.03 L526.10,302.74 L526.10,302.46 L526.10,302.17 L526.10,301.87 L526.10,301.58 L526.10,301.28 L526.10,300.98 L526.10,300.67 L526.10,300.37 L526.10,300.06 L526.10,299.75 L526.10,299.43 L526.10,299.12 L526.10,298.80 L526.10,298.47 L526.10,298.15 L526.10,297.82 L526.10,297.49 L526.10,297.16 L526.10,296.82 L526.11,296.48 L526.11,296.14 L526.11,295.80 L526.11,295.45 L526.11,295.10 L526.11,294.75 L526.11,294.39 L526.11,294.04 L526.11,293.67 L526.11,293.31 L526.11,292.94 L526.12,292.58 L526.12,292.20 L526.12,291.83 L526.12,291.45 L526.12,291.07 L526.12,290.69 L526.12,290.30 L526.13,289.91 L526.13,289.52 L526.13,289.13 L526.13,288.73 L526.13,288.33 L526.14,287.93 L526.14,287.52 L526.14,287.11 L526.14,286.70 L526.15,286.29 L526.15,285.87 L526.15,285.45 L526.16,285.03 L526.16,284.61 L526.16,284.18 L526.17,283.75 L526.17,283.32 L526.17,282.88 L526.18,282.44 L526.18,282.00 L526.19,281.56 L526.19,281.11 L526.20,280.66 L526.20,280.21 L526.21,279.76 L526.22,279.30 L526.22,278.84 L526.23,278.38 L526.24,277.92 L526.24,277.45 L526.25,276.98 L526.26,276.51 L526.27,276.04 L526.28,275.56 L526.29,275.08 L526.30,274.60 L526.31,274.11 L526.32,273.63 L526.33,273.14 L526.34,272.65 L526.36,272.16 L526.37,271.66 L526.38,271.16 L526.40,270.66 L526.42,270.16 L526.43,269.66 L526.45,269.15 L526.47,268.64 L526.49,268.13 L526.51,267.62 L526.53,267.10 L526.55,266.59 L526.58,266.07 L526.60,265.55 L526.63,265.03 L526.66,264.50 L526.68,263.97 L526.72,263.45 L526.75,262.92 L526.78,262.39 L526.82,261.85 L526.85,261.32 L526.89,260.78 L526.94,260.24 L526.98,259.70 L527.02,259.16 L527.07,258.62 L527.12,258.07 L527.18,257.53 L527.23,256.98 L527.29,256.43 L527.35,255.88 L527.42,255.33 L527.49,254.78 L527.56,254.22 L527.63,253.67 L527.71,253.11 L527.80,252.55 L527.89,251.99 L527.98,251.43 L528.07,250.87 L528.18,250.31 L528.28,249.75 L528.40,249.18 L528.52,248.62 L528.64,248.05 L528.77,247.49 L528.91,246.92 L529.06,246.35 L529.21,245.78 L529.37,245.21 L529.54,244.64 L529.72,244.07 L529.90,243.50 L530.10,242.93 L530.31,242.36 L530.52,241.78 L530.75,241.21 L530.99,240.64 L531.25,240.06 L531.51,239.49 L531.79,238.91 L532.08,238.33 L532.39,237.76 L532.72,237.18 L533.06,236.60 L533.42,236.03 L533.80,235.45 L534.19,234.87 L534.61,234.29 L535.05,233.71 L535.51,233.13 L536.00,232.55 L536.51,231.97 L537.05,231.39 L537.61,230.81 L538.21,230.23 L538.83,229.65 L539.49,229.07 L540.18,228.49 L540.90,227.90 L541.67,227.32 L542.47,226.74 L543.31,226.15 L544.20,225.57 L545.13,224.98 L546.12,224.39 L547.15,223.81 L548.23,223.22 L549.37,222.63 L550.57,222.04 L551.84,221.45 L553.16,220.86 L554.56,220.26 L556.03,219.67 L557.57,219.07 L559.19,218.47 L560.90,217.87 L562.69,217.27 L564.58,216.67 L566.56,216.06 L568.65,215.45 L570.84,214.84 L573.15,214.23 L575.57,213.61 L578.12,212.99 L580.81,212.37 L583.63,211.74 L586.59,211.11 L589.71,210.48 L592.99,209.84 L596.44,209.20 L600.06,208.55 L603.88,207.90 L607.89,207.24 L612.10,206.57 L616.54,205.90 L621.20,205.22 L626.10,204.53" fill="none" stroke="#3655ea" stroke-width="1.0" stroke-linejoin="round"/>
<rect x="534.75" y="229.75" width="3.50" height="3.50" fill="#1a35d0"/>
<rect x="540.85" y="223.95" width="3.50" height="3.50" fill="#1a35d0"/>
<rect x="549.45" y="219.25" width="3.50" height="3.50" fill="#1a35d0"/>
<rect x="557.35" y="216.85" width="3.50" height="3.50" fill="#1a35d0"/>
<rect x="566.55" y="213.15" width="3.50" height="3.50" fill="#1a35d0"/>
<rect x="574.45" y="210.75" width="3.50" height="3.50" fill="#1a35d0"/>
<rect x="582.55" y="209.35" width="3.50" height="3.50" fill="#1a35d0"/>
<rect x="590.65" y="207.85" width="3.50" height="3.50" fill="#1a35d0"/>
<rect x="599.25" y="205.65" width="3.50" height="3.50" fill="#1a35d0"/>
<rect x="607.85" y="204.65" width="3.50" height="3.50" fill="#1a35d0"/>
<rect x="616.15" y="203.95" width="3.50" height="3.50" fill="#1a35d0"/>
<rect x="624.35" y="203.95" width="3.50" height="3.50" fill="#1a35d0"/>
<path d="M529.80,213.30 V223.30 M528.40,213.30 H531.20 M528.40,223.30 H531.20" stroke="#48e448" stroke-width="0.75" fill="none"/>
<path d="M534.70,213.90 V223.90 M533.30,213.90 H536.10 M533.30,223.90 H536.10" stroke="#48e448" stroke-width="0.75" fill="none"/>
<path d="M540.20,207.20 V217.20 M538.80,207.20 H541.60 M538.80,217.20 H541.60" stroke="#48e448" stroke-width="0.75" fill="none"/>
<path d="M545.10,204.50 V214.50 M543.70,204.50 H546.50 M543.70,214.50 H546.50" stroke="#48e448" stroke-width="0.75" fill="none"/>
<path d="M551.80,203.00 V213.00 M550.40,203.00 H553.20 M550.40,213.00 H553.20" stroke="#48e448" stroke-width="0.75" fill="none"/>
<path d="M559.70,202.10 V212.10 M558.30,202.10 H561.10 M558.30,212.10 H561.10" stroke="#48e448" stroke-width="0.75" fill="none"/>
<path d="M568.30,201.70 V211.70 M566.90,201.70 H569.70 M566.90,211.70 H569.70" stroke="#48e448" stroke-width="0.75" fill="none"/>
<path d="M576.50,200.90 V210.90 M575.10,200.90 H577.90 M575.10,210.90 H577.90" stroke="#48e448" stroke-width="0.75" fill="none"/>
<path d="M526.09,328.97 L526.07,326.05 L526.02,320.43 L525.95,312.83 L525.87,303.96 L525.79,294.53 L525.71,285.25 L525.65,276.84 L525.60,270.00 L525.57,266.34 L525.52,262.89 L525.47,259.64 L525.43,256.53 L525.40,253.55 L525.40,250.66 L525.43,247.82 L525.50,245.00 L525.58,242.69 L525.66,240.40 L525.75,238.16 L525.86,235.97 L526.01,233.85 L526.19,231.83 L526.42,229.90 L526.70,228.10 L526.93,226.86 L527.16,225.65 L527.40,224.50 L527.67,223.39 L527.98,222.34 L528.32,221.35 L528.73,220.44 L529.20,219.60 L529.62,219.00 L530.08,218.47 L530.57,217.99 L531.09,217.55 L531.63,217.13 L532.20,216.73 L532.79,216.32 L533.40,215.90 L534.14,215.40 L534.91,214.90 L535.70,214.41 L536.53,213.93 L537.40,213.47 L538.29,213.03 L539.23,212.60 L540.20,212.20 L541.47,211.73 L542.81,211.30 L544.21,210.90 L545.66,210.52 L547.15,210.17 L548.68,209.83 L550.23,209.51 L551.80,209.20 L553.68,208.87 L555.66,208.57 L557.70,208.30 L559.77,208.05 L561.84,207.81 L563.87,207.58 L565.83,207.34 L567.70,207.10 L569.30,206.88 L571.01,206.63 L572.76,206.38 L574.45,206.13 L575.98,205.90 L577.26,205.71 L578.20,205.57 L578.70,205.50" fill="none" stroke="#3ee43e" stroke-width="1.0" stroke-linejoin="round"/>
<path d="M529.80,215.94 L532.00,219.74 L527.60,219.74 Z" fill="#14a014"/>
<path d="M534.70,216.54 L536.90,220.34 L532.50,220.34 Z" fill="#14a014"/>
<path d="M540.20,209.84 L542.40,213.64 L538.00,213.64 Z" fill="#14a014"/>
<path d="M545.10,207.14 L547.30,210.94 L542.90,210.94 Z" fill="#14a014"/>
<path d="M551.80,205.64 L554.00,209.44 L549.60,209.44 Z" fill="#14a014"/>
<path d="M559.70,204.74 L561.90,208.54 L557.50,208.54 Z" fill="#14a014"/>
<path d="M568.30,204.34 L570.50,208.14 L566.10,208.14 Z" fill="#14a014"/>
<path d="M576.50,203.54 L578.70,207.34 L574.30,207.34 Z" fill="#14a014"/>
<rect x="524.34" y="327.22" width="3.50" height="3.50" fill="#1a35d0"/>
<path d="M526.09,326.62 L528.29,330.42 L523.89,330.42 Z" fill="#14a014"/>
<rect x="628.80" y="309.20" width="56.00" height="27.30" fill="#fff" stroke="#aab0c0" stroke-width="0.9"/>
<path d="M638.00,312.28 L640.00,315.68 L636.00,315.68 Z" fill="#14a014"/>
<text x="646.10" y="317.09" class="lg">CS@MAF-7</text>
<rect x="636.50" y="321.35" width="3.00" height="3.00" fill="#1a35d0"/>
<text x="646.10" y="325.55" class="lg">CS@ZIF-8</text>
<circle cx="638.00" cy="331.31" r="1.75" fill="#ff5a1a"/>
<text x="646.10" y="334.01" class="lg">CS@ZIF-90</text>
</svg>
</body></html>
